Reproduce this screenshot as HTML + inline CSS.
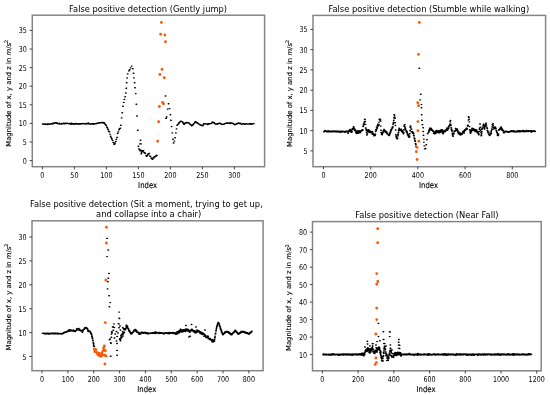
<!DOCTYPE html>
<html><head><meta charset="utf-8"><title>False positive detection plots</title><style>
html,body{margin:0;padding:0;background:#fff;width:550px;height:395px;overflow:hidden}
svg{display:block;filter:blur(0.3px)}

.sp{fill:none;stroke:#858585;stroke-width:1.5}
.tk{fill:none;stroke:#333;stroke-width:0.9}
text{font-family:"DejaVu Sans","Liberation Sans",sans-serif;fill:#000}
.xt{font-size:6.94px;text-anchor:middle}
.yt{font-size:6.94px;text-anchor:end}
.xl{font-size:6.94px;text-anchor:middle;stroke:#000;stroke-width:0.1px}
.yl{font-size:6.87px;stroke:#000;stroke-width:0.12px}
.ti{font-size:8.328px;text-anchor:middle}
.db,.do{fill:none;stroke-linecap:round}
.db{stroke:#000;stroke-width:1.44}
.do{stroke:#f95a08;stroke-width:2.9}
</style></head><body>
<svg width="550" height="395" viewBox="0 0 550 395">
<rect width="550" height="395" fill="#fff"/>
<rect class="sp" x="32.3" y="15.2" width="232.3" height="151.5"/>
<path class="tk" d="M42.4 166.7v2.7M74.4 166.7v2.7M106.4 166.7v2.7M138.4 166.7v2.7M170.4 166.7v2.7M202.4 166.7v2.7M234.4 166.7v2.7M32.3 160.6h-2.7M32.3 142h-2.7M32.3 123.4h-2.7M32.3 104.8h-2.7M32.3 86.2h-2.7M32.3 67.6h-2.7M32.3 49h-2.7M32.3 30.4h-2.7"/>
<text class="xt" transform="translate(42.4 177.7) scale(0.92 1.15)">0</text>
<text class="xt" transform="translate(74.4 177.7) scale(0.92 1.15)">50</text>
<text class="xt" transform="translate(106.4 177.7) scale(0.92 1.15)">100</text>
<text class="xt" transform="translate(138.4 177.7) scale(0.92 1.15)">150</text>
<text class="xt" transform="translate(170.4 177.7) scale(0.92 1.15)">200</text>
<text class="xt" transform="translate(202.4 177.7) scale(0.92 1.15)">250</text>
<text class="xt" transform="translate(234.4 177.7) scale(0.92 1.15)">300</text>
<text class="yt" transform="translate(26.84 160.6) scale(0.92 1.15)" y="2.64">0</text>
<text class="yt" transform="translate(26.84 142) scale(0.92 1.15)" y="2.64">5</text>
<text class="yt" transform="translate(26.84 123.4) scale(0.92 1.15)" y="2.64">10</text>
<text class="yt" transform="translate(26.84 104.8) scale(0.92 1.15)" y="2.64">15</text>
<text class="yt" transform="translate(26.84 86.2) scale(0.92 1.15)" y="2.64">20</text>
<text class="yt" transform="translate(26.84 67.6) scale(0.92 1.15)" y="2.64">25</text>
<text class="yt" transform="translate(26.84 49) scale(0.92 1.15)" y="2.64">30</text>
<text class="yt" transform="translate(26.84 30.4) scale(0.92 1.15)" y="2.64">35</text>
<text class="xl" transform="translate(147.65 188.22) scale(1 1.2)">Index</text>
<text class="yl" transform="translate(11.18 146.79) rotate(-90)" y="-0.68">Magnitude of x, y and z in <tspan font-style="italic">m</tspan>/<tspan font-style="italic">s</tspan><tspan font-size="4.858" dy="-2.68">2</tspan></text>
<text class="ti" x="148.05" y="11.89">False positive detection (Gently jump)</text>
<rect class="sp" x="313" y="15.4" width="232.6" height="151.3"/>
<path class="tk" d="M323.5 166.7v2.7M370.7 166.7v2.7M417.9 166.7v2.7M465.1 166.7v2.7M512.3 166.7v2.7M313 150.9h-2.7M313 130.65h-2.7M313 110.4h-2.7M313 90.15h-2.7M313 69.9h-2.7M313 49.65h-2.7M313 29.4h-2.7"/>
<text class="xt" transform="translate(323.5 177.7) scale(0.92 1.15)">0</text>
<text class="xt" transform="translate(370.7 177.7) scale(0.92 1.15)">200</text>
<text class="xt" transform="translate(417.9 177.7) scale(0.92 1.15)">400</text>
<text class="xt" transform="translate(465.1 177.7) scale(0.92 1.15)">600</text>
<text class="xt" transform="translate(512.3 177.7) scale(0.92 1.15)">800</text>
<text class="yt" transform="translate(307.54 150.9) scale(0.92 1.15)" y="2.64">5</text>
<text class="yt" transform="translate(307.54 130.65) scale(0.92 1.15)" y="2.64">10</text>
<text class="yt" transform="translate(307.54 110.4) scale(0.92 1.15)" y="2.64">15</text>
<text class="yt" transform="translate(307.54 90.15) scale(0.92 1.15)" y="2.64">20</text>
<text class="yt" transform="translate(307.54 69.9) scale(0.92 1.15)" y="2.64">25</text>
<text class="yt" transform="translate(307.54 49.65) scale(0.92 1.15)" y="2.64">30</text>
<text class="yt" transform="translate(307.54 29.4) scale(0.92 1.15)" y="2.64">35</text>
<text class="xl" transform="translate(428.5 188.22) scale(1 1.2)">Index</text>
<text class="yl" transform="translate(292.43 146.89) rotate(-90)" y="-0.68">Magnitude of x, y and z in <tspan font-style="italic">m</tspan>/<tspan font-style="italic">s</tspan><tspan font-size="4.858" dy="-2.68">2</tspan></text>
<text class="ti" x="428.8" y="12.09">False positive detection (Stumble while walking)</text>
<rect class="sp" x="32" y="220.8" width="231.1" height="149.9"/>
<path class="tk" d="M42 370.7v2.7M67.86 370.7v2.7M93.72 370.7v2.7M119.58 370.7v2.7M145.44 370.7v2.7M171.3 370.7v2.7M197.16 370.7v2.7M223.02 370.7v2.7M248.88 370.7v2.7M32 356.5h-2.7M32 332.6h-2.7M32 308.7h-2.7M32 284.8h-2.7M32 260.9h-2.7M32 237h-2.7"/>
<text class="xt" transform="translate(42 381.7) scale(0.92 1.15)">0</text>
<text class="xt" transform="translate(67.86 381.7) scale(0.92 1.15)">100</text>
<text class="xt" transform="translate(93.72 381.7) scale(0.92 1.15)">200</text>
<text class="xt" transform="translate(119.58 381.7) scale(0.92 1.15)">300</text>
<text class="xt" transform="translate(145.44 381.7) scale(0.92 1.15)">400</text>
<text class="xt" transform="translate(171.3 381.7) scale(0.92 1.15)">500</text>
<text class="xt" transform="translate(197.16 381.7) scale(0.92 1.15)">600</text>
<text class="xt" transform="translate(223.02 381.7) scale(0.92 1.15)">700</text>
<text class="xt" transform="translate(248.88 381.7) scale(0.92 1.15)">800</text>
<text class="yt" transform="translate(26.54 356.5) scale(0.92 1.15)" y="2.64">5</text>
<text class="yt" transform="translate(26.54 332.6) scale(0.92 1.15)" y="2.64">10</text>
<text class="yt" transform="translate(26.54 308.7) scale(0.92 1.15)" y="2.64">15</text>
<text class="yt" transform="translate(26.54 284.8) scale(0.92 1.15)" y="2.64">20</text>
<text class="yt" transform="translate(26.54 260.9) scale(0.92 1.15)" y="2.64">25</text>
<text class="yt" transform="translate(26.54 237) scale(0.92 1.15)" y="2.64">30</text>
<text class="xl" transform="translate(146.75 392.22) scale(1 1.2)">Index</text>
<text class="yl" transform="translate(11.53 350.49) rotate(-90)" y="-0.68">Magnitude of x, y and z in <tspan font-style="italic">m</tspan>/<tspan font-style="italic">s</tspan><tspan font-size="4.858" dy="-2.68">2</tspan></text>
<text class="ti" x="146.35" y="207.31">False positive detection (Sit a moment, trying to get up,</text>
<text class="ti" x="148.65" y="216.64">and collapse into a chair)</text>
<rect class="sp" x="312.5" y="221.6" width="228.7" height="149.2"/>
<path class="tk" d="M322.4 370.8v2.7M358.12 370.8v2.7M393.84 370.8v2.7M429.56 370.8v2.7M465.28 370.8v2.7M501 370.8v2.7M536.72 370.8v2.7M312.5 354.6h-2.7M312.5 337.1h-2.7M312.5 319.6h-2.7M312.5 302.1h-2.7M312.5 284.6h-2.7M312.5 267.1h-2.7M312.5 249.6h-2.7M312.5 232.1h-2.7"/>
<text class="xt" transform="translate(322.4 381.8) scale(0.92 1.15)">0</text>
<text class="xt" transform="translate(358.12 381.8) scale(0.92 1.15)">200</text>
<text class="xt" transform="translate(393.84 381.8) scale(0.92 1.15)">400</text>
<text class="xt" transform="translate(429.56 381.8) scale(0.92 1.15)">600</text>
<text class="xt" transform="translate(465.28 381.8) scale(0.92 1.15)">800</text>
<text class="xt" transform="translate(501 381.8) scale(0.92 1.15)">1000</text>
<text class="xt" transform="translate(536.72 381.8) scale(0.92 1.15)">1200</text>
<text class="yt" transform="translate(307.04 354.6) scale(0.92 1.15)" y="2.64">10</text>
<text class="yt" transform="translate(307.04 337.1) scale(0.92 1.15)" y="2.64">20</text>
<text class="yt" transform="translate(307.04 319.6) scale(0.92 1.15)" y="2.64">30</text>
<text class="yt" transform="translate(307.04 302.1) scale(0.92 1.15)" y="2.64">40</text>
<text class="yt" transform="translate(307.04 284.6) scale(0.92 1.15)" y="2.64">50</text>
<text class="yt" transform="translate(307.04 267.1) scale(0.92 1.15)" y="2.64">60</text>
<text class="yt" transform="translate(307.04 249.6) scale(0.92 1.15)" y="2.64">70</text>
<text class="yt" transform="translate(307.04 232.1) scale(0.92 1.15)" y="2.64">80</text>
<text class="xl" transform="translate(426.05 392.32) scale(1 1.2)">Index</text>
<text class="yl" transform="translate(291.93 351.04) rotate(-90)" y="-0.68">Magnitude of x, y and z in <tspan font-style="italic">m</tspan>/<tspan font-style="italic">s</tspan><tspan font-size="4.858" dy="-2.68">2</tspan></text>
<text class="ti" x="426.85" y="218.29">False positive detection (Near Fall)</text>
<path class="db" d="M42.5 123.9h0.55M43.2 124.3h0.55M43.8 124.3h0.55M44.4 124.1h0.55M45.1 124.2h0.55M45.7 124.0h0.55M46.4 124.3h0.55M47.0 124.6h0.55M47.6 124.0h0.55M48.3 123.9h0.55M48.9 124.2h0.55M49.6 124.1h0.55M50.2 124.0h0.55M50.8 123.6h0.55M51.5 123.8h0.55M52.1 124.0h0.55M52.8 123.3h0.55M53.4 123.5h0.55M54.0 122.9h0.55M54.7 123.1h0.55M55.3 122.8h0.55M56.0 123.2h0.55M56.6 122.8h0.55M57.2 123.5h0.55M57.9 123.7h0.55M58.5 123.8h0.55M59.2 123.3h0.55M59.8 124.0h0.55M60.4 124.1h0.55M61.1 124.0h0.55M61.7 123.5h0.55M62.4 123.7h0.55M63.0 123.5h0.55M63.6 123.4h0.55M64.3 123.9h0.55M64.9 123.3h0.55M65.6 123.4h0.55M66.2 123.6h0.55M66.8 123.1h0.55M67.5 123.4h0.55M68.1 123.6h0.55M68.8 123.8h0.55M69.4 123.4h0.55M70.0 123.8h0.55M70.7 124.2h0.55M71.3 123.3h0.55M72.0 124.1h0.55M72.6 123.8h0.55M73.2 123.6h0.55M73.9 124.4h0.55M74.5 124.0h0.55M75.2 123.4h0.55M75.8 123.8h0.55M76.4 124.0h0.55M77.1 123.7h0.55M77.7 124.0h0.55M78.4 123.8h0.55M79.0 124.0h0.55M79.6 124.2h0.55M80.3 123.6h0.55M80.9 123.9h0.55M81.6 123.7h0.55M82.2 123.8h0.55M82.8 123.4h0.55M83.5 123.6h0.55M84.1 123.7h0.55M84.8 124.1h0.55M85.4 124.1h0.55M86.0 123.4h0.55M86.7 123.6h0.55M87.3 123.7h0.55M88.0 122.9h0.55M88.6 123.8h0.55M89.2 123.9h0.55M89.9 124.2h0.55M90.5 124.1h0.55M91.2 123.7h0.55M91.8 123.7h0.55M92.4 123.7h0.55M93.1 124.2h0.55M93.7 123.6h0.55M94.4 123.7h0.55M95.0 123.8h0.55M95.6 123.7h0.55M96.3 123.6h0.55M96.9 123.2h0.55M97.6 123.3h0.55M98.2 122.9h0.55M98.8 123.1h0.55M99.5 122.8h0.55M100.1 122.6h0.55M100.8 122.8h0.55M101.4 122.4h0.55M102.0 122.8h0.55M102.7 122.5h0.55M103.3 123.0h0.55M104.0 122.8h0.55M104.6 124.0h0.55M105.2 124.4h0.55M105.9 125.4h0.55M106.5 127.0h0.55M107.2 128.0h0.55M107.8 129.5h0.55M108.4 131.2h0.55M109.1 131.7h0.55M109.7 134.1h0.55M110.4 136.2h0.55M111.0 137.8h0.55M111.6 139.0h0.55M112.3 140.4h0.55M112.9 142.4h0.55M113.6 144.0h0.55M114.2 144.3h0.55M114.8 143.0h0.55M115.5 141.4h0.55M116.1 139.3h0.55M116.8 137.4h0.55M117.4 133.6h0.55M118.0 132.0h0.55M118.7 129.8h0.55M119.3 128.8h0.55M120.0 128.3h0.55M120.6 125.2h0.55M121.4 117.9h0.55M122.0 112.7h0.55M122.7 106.2h0.55M123.5 102.4h0.55M124.1 99.4h0.55M124.9 96.7h0.55M125.6 93.0h0.55M126.0 88.3h0.55M126.4 82.7h0.55M126.8 77.9h0.55M127.4 73.9h0.55M128.6 70.9h0.55M129.4 69.8h0.55M130.3 67.9h0.55M131.4 66.1h0.55M132.6 68.8h0.55M133.3 73.2h0.55M133.7 77.9h0.55M134.3 82.7h0.55M134.7 87.7h0.55M135.5 93.6h0.55M136.1 104.2h0.55M136.7 116.0h0.55M137.5 130.2h0.55M140.2 140.3h0.55M139.7 143.9h0.55M140.8 143.9h0.55M138.1 146.2h0.55M138.7 148.9h0.55M139.4 149.7h0.55M140.0 150.9h0.55M140.6 150.1h0.55M141.3 152.2h0.55M141.9 150.7h0.55M142.6 151.3h0.55M143.2 150.6h0.55M143.8 152.4h0.55M144.5 153.0h0.55M145.1 153.2h0.55M145.8 155.5h0.55M146.4 156.2h0.55M147.0 155.5h0.55M147.7 154.5h0.55M148.3 153.7h0.55M149.0 153.5h0.55M149.6 155.9h0.55M150.2 156.4h0.55M150.9 157.9h0.55M151.5 158.6h0.55M152.2 159.4h0.55M152.8 157.9h0.55M153.4 158.0h0.55M154.1 156.7h0.55M154.7 156.9h0.55M155.4 156.2h0.55M156.0 155.5h0.55M156.6 155.5h0.55M141.1 153.8h0.55M165.2 96.0h0.55M165.8 118.4h0.55M166.3 117.0h0.55M167.4 109.1h0.55M168.3 103.7h0.55M169.3 108.6h0.55M170.1 114.8h0.55M170.7 120.3h0.55M171.3 126.6h0.55M172.0 132.9h0.55M172.7 139.2h0.55M173.3 143.0h0.55M174.1 141.1h0.55M174.8 137.7h0.55M175.6 132.9h0.55M176.3 128.9h0.55M176.9 125.3h0.55M177.4 124.6h0.55M178.1 123.9h0.55M178.7 123.0h0.55M179.3 122.3h0.55M180.0 121.5h0.55M180.6 121.2h0.55M181.3 121.4h0.55M181.9 121.6h0.55M182.5 122.3h0.55M183.2 123.5h0.55M183.8 124.4h0.55M184.5 123.3h0.55M185.1 123.3h0.55M185.7 122.8h0.55M186.4 122.4h0.55M187.0 122.9h0.55M187.7 122.6h0.55M188.3 122.7h0.55M188.9 123.2h0.55M189.6 124.1h0.55M190.2 124.5h0.55M190.9 125.3h0.55M191.5 125.7h0.55M192.1 125.0h0.55M192.8 124.9h0.55M193.4 123.7h0.55M194.1 123.1h0.55M194.7 122.3h0.55M195.3 121.8h0.55M196.0 122.2h0.55M196.6 122.9h0.55M197.3 123.0h0.55M197.9 123.4h0.55M198.5 123.9h0.55M199.2 124.6h0.55M199.8 124.8h0.55M200.5 125.1h0.55M201.1 125.3h0.55M201.7 125.5h0.55M202.4 125.7h0.55M203.0 124.9h0.55M203.7 123.7h0.55M204.3 123.6h0.55M204.9 123.8h0.55M205.6 123.9h0.55M206.2 124.1h0.55M206.9 123.9h0.55M207.5 124.5h0.55M208.1 123.8h0.55M208.8 124.1h0.55M209.4 123.8h0.55M210.1 123.6h0.55M210.7 123.6h0.55M211.3 123.2h0.55M212.0 122.3h0.55M212.6 121.9h0.55M213.3 122.7h0.55M213.9 122.7h0.55M214.5 123.4h0.55M215.2 124.1h0.55M215.8 124.0h0.55M216.5 124.0h0.55M217.1 124.2h0.55M217.7 123.8h0.55M218.4 123.4h0.55M219.0 123.2h0.55M219.7 123.3h0.55M220.3 123.5h0.55M220.9 124.3h0.55M221.6 124.4h0.55M222.2 124.1h0.55M222.9 124.4h0.55M223.5 124.1h0.55M224.1 124.0h0.55M224.8 123.4h0.55M225.4 123.4h0.55M226.1 123.2h0.55M226.7 123.1h0.55M227.3 123.3h0.55M228.0 122.9h0.55M228.6 123.2h0.55M229.3 123.1h0.55M229.9 123.5h0.55M230.5 122.6h0.55M231.2 123.1h0.55M231.8 123.1h0.55M232.5 123.5h0.55M233.1 123.5h0.55M233.7 124.1h0.55M234.4 124.7h0.55M235.0 124.5h0.55M235.7 124.2h0.55M236.3 123.7h0.55M236.9 123.7h0.55M237.6 123.2h0.55M238.2 122.9h0.55M238.9 123.5h0.55M239.5 123.5h0.55M240.1 123.2h0.55M240.8 123.9h0.55M241.4 124.3h0.55M242.1 124.0h0.55M242.7 123.7h0.55M243.3 123.7h0.55M244.0 124.3h0.55M244.6 124.0h0.55M245.3 124.0h0.55M245.9 123.9h0.55M246.5 124.0h0.55M247.2 124.1h0.55M247.8 124.1h0.55M248.5 124.0h0.55M249.1 123.7h0.55M249.7 124.1h0.55M250.4 123.8h0.55M251.0 124.2h0.55M251.7 123.6h0.55M252.3 123.9h0.55M252.9 123.9h0.55M253.6 123.6h0.55M323.6 131.8h0.55M323.9 131.7h0.55M324.1 131.2h0.55M324.3 131.5h0.55M324.6 131.4h0.55M324.8 130.5h0.55M325.0 131.4h0.55M325.3 131.3h0.55M325.5 131.4h0.55M325.7 131.0h0.55M326.0 131.3h0.55M326.2 131.3h0.55M326.5 131.7h0.55M326.7 131.5h0.55M326.9 131.4h0.55M327.2 131.8h0.55M327.4 131.2h0.55M327.6 131.2h0.55M327.9 130.8h0.55M328.1 131.8h0.55M328.3 131.7h0.55M328.6 131.7h0.55M328.8 131.6h0.55M329.1 131.4h0.55M329.3 131.5h0.55M329.5 131.3h0.55M329.8 131.3h0.55M330.0 131.4h0.55M330.2 131.9h0.55M330.5 131.6h0.55M330.7 131.4h0.55M330.9 131.2h0.55M331.2 131.2h0.55M331.4 131.9h0.55M331.6 131.6h0.55M331.9 131.5h0.55M332.1 131.3h0.55M332.4 131.1h0.55M332.6 131.4h0.55M332.8 131.7h0.55M333.1 131.3h0.55M333.3 131.4h0.55M333.5 131.4h0.55M333.8 131.5h0.55M334.0 131.0h0.55M334.2 131.4h0.55M334.5 131.2h0.55M334.7 131.7h0.55M335.0 131.3h0.55M335.2 131.7h0.55M335.4 131.9h0.55M335.7 131.4h0.55M335.9 131.3h0.55M336.1 131.6h0.55M336.4 131.5h0.55M336.6 131.2h0.55M336.8 131.7h0.55M337.1 132.1h0.55M337.3 131.4h0.55M337.5 131.5h0.55M337.8 131.2h0.55M338.0 131.6h0.55M338.3 131.2h0.55M338.5 131.2h0.55M338.7 131.9h0.55M339.0 131.3h0.55M339.2 131.9h0.55M339.4 132.0h0.55M339.7 131.6h0.55M339.9 131.7h0.55M340.1 132.2h0.55M340.4 131.5h0.55M340.6 131.4h0.55M340.9 131.2h0.55M341.1 131.6h0.55M341.3 132.0h0.55M341.6 131.9h0.55M341.8 131.3h0.55M342.0 131.3h0.55M342.3 131.5h0.55M342.5 131.7h0.55M342.7 131.5h0.55M343.0 131.7h0.55M343.2 131.7h0.55M343.4 131.5h0.55M343.7 131.6h0.55M343.9 131.7h0.55M344.2 131.6h0.55M344.4 131.8h0.55M344.6 132.2h0.55M344.9 131.8h0.55M345.1 131.7h0.55M345.3 131.1h0.55M345.6 131.8h0.55M345.8 131.1h0.55M346.0 131.2h0.55M346.3 131.9h0.55M346.5 131.9h0.55M346.8 131.6h0.55M347.0 131.2h0.55M347.2 131.6h0.55M347.5 131.5h0.55M347.7 131.9h0.55M347.9 133.3h0.55M348.2 131.9h0.55M348.4 131.1h0.55M348.6 130.7h0.55M348.9 131.3h0.55M349.1 131.0h0.55M349.3 130.0h0.55M349.6 130.7h0.55M349.8 129.5h0.55M350.1 130.9h0.55M350.3 130.6h0.55M350.5 131.2h0.55M350.8 130.8h0.55M351.0 132.2h0.55M351.2 132.4h0.55M351.5 131.9h0.55M351.7 131.0h0.55M351.9 129.4h0.55M352.2 128.4h0.55M352.4 129.3h0.55M352.7 128.3h0.55M352.9 128.4h0.55M353.1 128.7h0.55M353.4 126.6h0.55M353.6 127.7h0.55M353.8 128.7h0.55M354.1 129.2h0.55M354.3 129.0h0.55M354.5 130.5h0.55M354.8 130.4h0.55M355.0 129.8h0.55M355.2 130.5h0.55M355.5 132.1h0.55M355.7 132.2h0.55M356.0 130.9h0.55M356.2 133.5h0.55M356.4 133.1h0.55M356.7 133.4h0.55M356.9 132.0h0.55M357.1 131.8h0.55M357.4 131.0h0.55M357.6 133.4h0.55M357.8 131.3h0.55M358.1 132.5h0.55M358.3 131.1h0.55M358.6 131.8h0.55M358.8 130.7h0.55M359.0 131.8h0.55M359.3 132.9h0.55M359.5 131.4h0.55M359.7 132.8h0.55M360.0 132.2h0.55M360.2 131.0h0.55M360.4 131.3h0.55M360.7 131.1h0.55M360.9 131.3h0.55M361.1 130.8h0.55M361.4 130.4h0.55M361.6 130.6h0.55M361.9 130.0h0.55M362.1 129.6h0.55M362.3 130.3h0.55M362.6 129.9h0.55M362.8 126.6h0.55M363.0 126.3h0.55M363.3 124.9h0.55M363.5 123.7h0.55M363.7 123.9h0.55M364.0 122.0h0.55M364.2 122.3h0.55M364.5 119.5h0.55M364.7 119.2h0.55M364.9 121.4h0.55M365.2 124.4h0.55M365.4 127.9h0.55M365.6 128.1h0.55M365.9 129.3h0.55M366.1 130.2h0.55M366.3 132.2h0.55M366.6 135.1h0.55M366.8 134.1h0.55M367.0 133.7h0.55M367.3 131.3h0.55M367.5 130.8h0.55M367.8 129.7h0.55M368.0 131.5h0.55M368.2 130.4h0.55M368.5 130.0h0.55M368.7 131.3h0.55M368.9 132.2h0.55M369.2 130.5h0.55M369.4 130.9h0.55M369.6 131.3h0.55M369.9 131.2h0.55M370.1 132.3h0.55M370.4 131.6h0.55M370.6 131.8h0.55M370.8 132.8h0.55M371.1 131.9h0.55M371.3 132.9h0.55M371.5 132.0h0.55M371.8 131.9h0.55M372.0 131.5h0.55M372.2 134.3h0.55M372.5 133.0h0.55M372.7 133.7h0.55M372.9 133.7h0.55M373.2 134.1h0.55M373.4 134.2h0.55M373.7 135.8h0.55M373.9 134.2h0.55M374.1 134.3h0.55M374.4 135.2h0.55M374.6 135.4h0.55M374.8 135.6h0.55M375.1 134.2h0.55M375.3 131.6h0.55M375.5 129.8h0.55M375.8 129.7h0.55M376.0 130.5h0.55M376.3 127.1h0.55M376.5 128.9h0.55M376.7 127.2h0.55M377.0 128.0h0.55M377.2 125.8h0.55M377.4 125.7h0.55M377.7 124.2h0.55M377.9 124.4h0.55M378.1 126.0h0.55M378.4 125.4h0.55M378.6 124.4h0.55M378.8 122.1h0.55M379.1 119.2h0.55M379.3 119.7h0.55M379.6 119.7h0.55M379.8 119.5h0.55M380.0 119.2h0.55M380.3 121.0h0.55M380.5 126.1h0.55M380.7 130.3h0.55M381.0 132.5h0.55M381.2 134.1h0.55M381.4 133.9h0.55M381.7 134.6h0.55M381.9 134.8h0.55M382.2 133.6h0.55M382.4 132.8h0.55M382.6 132.6h0.55M382.9 131.2h0.55M383.1 131.6h0.55M383.3 130.4h0.55M383.6 129.9h0.55M383.8 129.4h0.55M384.0 129.7h0.55M384.3 130.2h0.55M384.5 131.0h0.55M384.7 131.1h0.55M385.0 131.9h0.55M385.2 131.9h0.55M385.5 131.2h0.55M385.7 132.5h0.55M385.9 131.7h0.55M386.2 132.5h0.55M386.4 133.0h0.55M386.6 132.0h0.55M386.9 133.7h0.55M387.1 134.0h0.55M387.3 134.0h0.55M387.6 134.1h0.55M387.8 134.3h0.55M388.1 134.1h0.55M388.3 134.9h0.55M388.5 134.9h0.55M388.8 135.6h0.55M389.0 134.3h0.55M389.2 134.7h0.55M389.5 134.0h0.55M389.7 133.2h0.55M389.9 132.3h0.55M390.2 132.4h0.55M390.4 130.2h0.55M390.6 131.1h0.55M390.9 130.3h0.55M391.1 129.7h0.55M391.4 129.3h0.55M391.6 128.1h0.55M391.8 127.9h0.55M392.1 128.1h0.55M392.3 127.4h0.55M392.5 126.8h0.55M392.8 124.2h0.55M393.0 123.8h0.55M393.2 122.3h0.55M393.5 120.2h0.55M393.7 117.8h0.55M394.0 114.6h0.55M394.2 115.6h0.55M394.4 117.3h0.55M394.7 118.2h0.55M394.9 122.7h0.55M395.1 125.5h0.55M395.4 130.0h0.55M395.6 134.8h0.55M395.8 136.9h0.55M396.1 136.2h0.55M396.3 137.1h0.55M396.5 138.6h0.55M396.8 138.9h0.55M397.0 138.1h0.55M397.3 138.2h0.55M397.5 135.9h0.55M397.7 134.8h0.55M398.0 134.0h0.55M398.2 132.4h0.55M398.4 130.7h0.55M398.7 129.7h0.55M398.9 128.3h0.55M399.1 129.0h0.55M399.4 129.7h0.55M399.6 129.7h0.55M399.9 130.2h0.55M400.1 129.9h0.55M400.3 129.6h0.55M400.6 130.2h0.55M400.8 129.4h0.55M401.0 129.2h0.55M401.3 131.1h0.55M401.5 131.1h0.55M401.7 131.7h0.55M402.0 130.7h0.55M402.2 132.0h0.55M402.4 132.3h0.55M402.7 132.5h0.55M402.9 131.9h0.55M403.2 133.7h0.55M403.4 132.7h0.55M403.6 129.7h0.55M403.9 126.3h0.55M404.1 125.1h0.55M404.3 126.4h0.55M404.6 124.6h0.55M404.8 127.2h0.55M405.0 128.4h0.55M405.3 129.2h0.55M405.5 130.7h0.55M405.8 130.8h0.55M406.0 130.8h0.55M406.2 131.3h0.55M406.5 132.2h0.55M406.7 131.8h0.55M406.9 132.7h0.55M407.2 133.9h0.55M407.4 135.1h0.55M407.6 134.2h0.55M407.9 134.7h0.55M408.1 135.3h0.55M408.3 136.5h0.55M408.6 135.9h0.55M408.8 137.3h0.55M409.1 136.0h0.55M409.3 136.9h0.55M409.5 133.8h0.55M409.8 130.8h0.55M410.0 127.3h0.55M410.2 125.9h0.55M410.5 127.1h0.55M410.7 128.9h0.55M410.9 129.0h0.55M411.2 129.2h0.55M411.4 131.8h0.55M411.7 132.0h0.55M411.9 132.2h0.55M412.1 131.8h0.55M412.4 133.1h0.55M412.6 132.4h0.55M412.8 133.6h0.55M413.1 132.6h0.55M413.3 133.7h0.55M413.5 135.5h0.55M413.8 135.9h0.55M414.0 138.0h0.55M414.2 138.7h0.55M414.5 139.0h0.55M414.7 140.8h0.55M415.0 141.6h0.55M415.2 143.6h0.55M415.4 143.6h0.55M415.7 144.7h0.55M415.9 146.8h0.55M419.0 68.2h0.55M419.9 99.9h0.55M420.5 94.2h0.55M421.2 104.6h0.55M421.2 107.8h0.55M421.4 114.8h0.55M421.7 120.2h0.55M422.1 124.7h0.55M422.9 127.7h0.55M422.9 131.5h0.55M423.2 135.3h0.55M423.6 139.1h0.55M423.6 142.1h0.55M424.1 145.9h0.55M424.4 148.9h0.55M425.3 148.5h0.55M426.0 144.7h0.55M426.7 139.8h0.55M427.4 133.8h0.55M428.2 132.4h0.55M428.5 131.9h0.55M428.7 130.2h0.55M428.9 130.1h0.55M429.2 130.7h0.55M429.4 129.2h0.55M429.6 128.3h0.55M429.9 129.1h0.55M430.1 129.4h0.55M430.3 128.6h0.55M430.6 128.2h0.55M430.8 128.4h0.55M431.1 130.0h0.55M431.3 129.1h0.55M431.5 129.7h0.55M431.8 130.0h0.55M432.0 130.4h0.55M432.2 130.1h0.55M432.5 131.1h0.55M432.7 130.6h0.55M432.9 131.3h0.55M433.2 131.3h0.55M433.4 133.2h0.55M433.7 132.8h0.55M433.9 132.7h0.55M434.1 133.4h0.55M434.4 133.8h0.55M434.6 133.9h0.55M434.8 131.9h0.55M435.1 131.8h0.55M435.3 131.8h0.55M435.5 133.3h0.55M435.8 131.8h0.55M436.0 130.5h0.55M436.2 131.2h0.55M436.5 132.2h0.55M436.7 130.7h0.55M437.0 130.7h0.55M437.2 131.9h0.55M437.4 131.4h0.55M437.7 131.6h0.55M437.9 131.0h0.55M438.1 132.8h0.55M438.4 132.8h0.55M438.6 132.2h0.55M438.8 132.4h0.55M439.1 130.7h0.55M439.3 132.7h0.55M439.6 132.0h0.55M439.8 132.2h0.55M440.0 132.2h0.55M440.3 131.2h0.55M440.5 130.0h0.55M440.7 131.2h0.55M441.0 130.2h0.55M441.2 130.4h0.55M441.4 130.5h0.55M441.7 130.9h0.55M441.9 129.8h0.55M442.1 132.5h0.55M442.4 132.0h0.55M442.6 132.9h0.55M442.9 133.7h0.55M443.1 132.2h0.55M443.3 130.9h0.55M443.6 131.5h0.55M443.8 131.2h0.55M444.0 131.6h0.55M444.3 131.9h0.55M444.5 130.4h0.55M444.7 131.8h0.55M445.0 130.3h0.55M445.2 131.3h0.55M445.5 130.7h0.55M445.7 130.3h0.55M445.9 130.3h0.55M446.2 129.7h0.55M446.4 129.3h0.55M446.6 128.3h0.55M446.9 129.1h0.55M447.1 130.2h0.55M447.3 129.9h0.55M447.6 129.2h0.55M447.8 128.4h0.55M448.0 127.1h0.55M448.3 128.2h0.55M448.5 126.7h0.55M448.8 126.3h0.55M449.0 125.8h0.55M449.2 125.6h0.55M449.5 124.9h0.55M449.7 124.3h0.55M449.9 121.8h0.55M450.2 120.5h0.55M450.4 124.3h0.55M450.6 125.5h0.55M450.9 127.8h0.55M451.1 129.2h0.55M451.4 130.2h0.55M451.6 129.8h0.55M451.8 131.3h0.55M452.1 133.3h0.55M452.3 134.4h0.55M452.5 135.8h0.55M452.8 136.2h0.55M453.0 134.0h0.55M453.2 133.9h0.55M453.5 132.9h0.55M453.7 133.8h0.55M453.9 130.9h0.55M454.2 131.3h0.55M454.4 130.9h0.55M454.7 131.3h0.55M454.9 130.8h0.55M455.1 130.9h0.55M455.4 128.4h0.55M455.6 130.2h0.55M455.8 129.6h0.55M456.1 129.5h0.55M456.3 130.5h0.55M456.5 129.6h0.55M456.8 129.0h0.55M457.0 130.3h0.55M457.3 129.9h0.55M457.5 130.9h0.55M457.7 132.1h0.55M458.0 132.4h0.55M458.2 133.7h0.55M458.4 132.9h0.55M458.7 132.3h0.55M458.9 133.1h0.55M459.1 133.1h0.55M459.4 133.1h0.55M459.6 134.4h0.55M459.8 133.8h0.55M460.1 133.0h0.55M460.3 135.0h0.55M460.6 134.4h0.55M460.8 134.5h0.55M461.0 134.1h0.55M461.3 134.2h0.55M461.5 133.6h0.55M461.7 134.2h0.55M462.0 133.3h0.55M462.2 133.1h0.55M462.4 133.0h0.55M462.7 131.5h0.55M462.9 132.3h0.55M463.2 132.1h0.55M463.4 132.3h0.55M463.6 131.0h0.55M463.9 133.0h0.55M464.1 131.6h0.55M464.3 130.4h0.55M464.6 129.8h0.55M464.8 130.4h0.55M465.0 130.3h0.55M465.3 129.5h0.55M465.5 129.8h0.55M465.7 128.9h0.55M466.0 129.5h0.55M466.2 128.2h0.55M466.5 128.2h0.55M466.7 128.4h0.55M466.9 129.1h0.55M467.2 126.1h0.55M467.4 126.0h0.55M467.6 125.3h0.55M467.9 125.3h0.55M468.1 120.1h0.55M468.3 116.8h0.55M468.6 117.4h0.55M468.8 119.2h0.55M469.1 121.9h0.55M469.3 126.6h0.55M469.5 129.7h0.55M469.8 131.1h0.55M470.0 132.7h0.55M470.2 133.3h0.55M470.5 132.4h0.55M470.7 130.7h0.55M470.9 131.0h0.55M471.2 131.2h0.55M471.4 130.4h0.55M471.6 129.3h0.55M471.9 128.3h0.55M472.1 129.4h0.55M472.4 128.7h0.55M472.6 128.4h0.55M472.8 128.7h0.55M473.1 130.4h0.55M473.3 129.6h0.55M473.5 130.3h0.55M473.8 129.2h0.55M474.0 130.3h0.55M474.2 129.3h0.55M474.5 129.7h0.55M474.7 131.6h0.55M475.0 130.5h0.55M475.2 129.6h0.55M475.4 130.1h0.55M475.7 130.7h0.55M475.9 131.5h0.55M476.1 130.6h0.55M476.4 129.9h0.55M476.6 131.2h0.55M476.8 131.6h0.55M477.1 131.9h0.55M477.3 133.0h0.55M477.5 132.5h0.55M477.8 133.1h0.55M478.0 132.0h0.55M478.3 133.6h0.55M478.5 134.7h0.55M478.7 134.0h0.55M479.0 131.4h0.55M479.2 129.2h0.55M479.4 128.1h0.55M479.7 124.0h0.55M479.9 124.1h0.55M480.1 127.3h0.55M480.4 130.3h0.55M480.6 132.3h0.55M480.9 135.7h0.55M481.1 134.9h0.55M481.3 133.6h0.55M481.6 131.7h0.55M481.8 129.3h0.55M482.0 128.4h0.55M482.3 128.0h0.55M482.5 126.1h0.55M482.7 126.0h0.55M483.0 126.0h0.55M483.2 124.2h0.55M483.4 125.6h0.55M483.7 125.3h0.55M483.9 127.4h0.55M484.2 128.8h0.55M484.4 129.1h0.55M484.6 126.8h0.55M484.9 126.5h0.55M485.1 125.1h0.55M485.3 124.1h0.55M485.6 124.5h0.55M485.8 123.3h0.55M486.0 125.8h0.55M486.3 125.9h0.55M486.5 127.8h0.55M486.8 128.0h0.55M487.0 128.6h0.55M487.2 130.5h0.55M487.5 132.0h0.55M487.7 132.1h0.55M487.9 132.9h0.55M488.2 132.7h0.55M488.4 132.0h0.55M488.6 134.5h0.55M488.9 134.8h0.55M489.1 134.9h0.55M489.3 135.2h0.55M489.6 135.5h0.55M489.8 134.0h0.55M490.1 133.5h0.55M490.3 133.4h0.55M490.5 134.0h0.55M490.8 131.8h0.55M491.0 133.2h0.55M491.2 130.6h0.55M491.5 129.0h0.55M491.7 129.3h0.55M491.9 127.0h0.55M492.2 124.8h0.55M492.4 124.1h0.55M492.7 123.7h0.55M492.9 125.5h0.55M493.1 127.3h0.55M493.4 129.0h0.55M493.6 129.0h0.55M493.8 127.8h0.55M494.1 128.3h0.55M494.3 127.8h0.55M494.5 127.2h0.55M494.8 127.0h0.55M495.0 127.5h0.55M495.2 128.0h0.55M495.5 128.2h0.55M495.7 128.9h0.55M496.0 130.6h0.55M496.2 130.6h0.55M496.4 131.7h0.55M496.7 132.5h0.55M496.9 132.8h0.55M497.1 134.9h0.55M497.4 133.5h0.55M497.6 135.5h0.55M497.8 135.4h0.55M498.1 135.6h0.55M498.3 134.1h0.55M498.6 130.2h0.55M498.8 129.6h0.55M499.0 129.8h0.55M499.3 129.6h0.55M499.5 129.2h0.55M499.7 128.3h0.55M500.0 128.3h0.55M500.2 128.3h0.55M500.4 128.1h0.55M500.7 129.1h0.55M500.9 127.0h0.55M501.1 129.3h0.55M501.4 128.3h0.55M501.6 130.0h0.55M501.9 129.4h0.55M502.1 129.3h0.55M502.3 130.6h0.55M502.6 130.1h0.55M502.8 130.5h0.55M503.0 130.4h0.55M503.3 131.9h0.55M503.5 132.6h0.55M503.7 132.9h0.55M504.0 131.9h0.55M504.2 132.6h0.55M504.5 131.7h0.55M504.7 131.5h0.55M504.9 131.6h0.55M505.2 131.6h0.55M505.4 131.1h0.55M505.6 131.3h0.55M505.9 131.3h0.55M506.1 131.5h0.55M506.3 131.3h0.55M506.6 131.9h0.55M506.8 131.6h0.55M507.0 131.9h0.55M507.3 131.6h0.55M507.5 132.0h0.55M507.8 132.0h0.55M508.0 131.7h0.55M508.2 132.4h0.55M508.5 131.9h0.55M508.7 132.3h0.55M508.9 132.0h0.55M509.2 131.5h0.55M509.4 131.5h0.55M509.6 131.7h0.55M509.9 131.6h0.55M510.1 131.5h0.55M510.4 131.4h0.55M510.6 130.9h0.55M510.8 131.3h0.55M511.1 130.7h0.55M511.3 131.5h0.55M511.5 131.2h0.55M511.8 131.2h0.55M512.0 131.4h0.55M512.2 131.5h0.55M512.5 131.0h0.55M512.7 130.9h0.55M512.9 131.1h0.55M513.2 130.8h0.55M513.4 131.2h0.55M513.7 131.9h0.55M513.9 131.1h0.55M514.1 131.7h0.55M514.4 131.1h0.55M514.6 131.6h0.55M514.8 131.4h0.55M515.1 131.5h0.55M515.3 131.7h0.55M515.5 132.0h0.55M515.8 131.5h0.55M516.0 131.5h0.55M516.3 131.1h0.55M516.5 131.6h0.55M516.7 131.3h0.55M517.0 131.6h0.55M517.2 131.3h0.55M517.4 131.9h0.55M517.7 130.7h0.55M517.9 131.2h0.55M518.1 131.5h0.55M518.4 131.1h0.55M518.6 131.0h0.55M518.8 131.1h0.55M519.1 130.8h0.55M519.3 131.2h0.55M519.6 131.9h0.55M519.8 131.5h0.55M520.0 130.9h0.55M520.3 130.9h0.55M520.5 131.1h0.55M520.7 131.5h0.55M521.0 131.0h0.55M521.2 131.0h0.55M521.4 131.5h0.55M521.7 131.5h0.55M521.9 131.1h0.55M522.2 130.9h0.55M522.4 130.7h0.55M522.6 131.0h0.55M522.9 130.5h0.55M523.1 131.4h0.55M523.3 131.0h0.55M523.6 131.3h0.55M523.8 131.8h0.55M524.0 131.6h0.55M524.3 130.9h0.55M524.5 131.5h0.55M524.7 131.5h0.55M525.0 131.0h0.55M525.2 130.9h0.55M525.5 131.2h0.55M525.7 130.7h0.55M525.9 131.6h0.55M526.2 130.5h0.55M526.4 130.9h0.55M526.6 131.1h0.55M526.9 131.1h0.55M527.1 131.2h0.55M527.3 131.3h0.55M527.6 131.1h0.55M527.8 131.5h0.55M528.1 130.6h0.55M528.3 131.2h0.55M528.5 131.0h0.55M528.8 131.2h0.55M529.0 131.3h0.55M529.2 130.9h0.55M529.5 131.0h0.55M529.7 131.4h0.55M529.9 131.3h0.55M530.2 131.0h0.55M530.4 131.8h0.55M530.6 131.9h0.55M530.9 130.8h0.55M531.1 131.3h0.55M531.4 132.0h0.55M531.6 131.4h0.55M531.8 131.3h0.55M532.1 131.1h0.55M532.3 131.0h0.55M532.5 131.1h0.55M532.8 131.0h0.55M533.0 131.4h0.55M533.2 131.1h0.55M533.5 131.1h0.55M533.7 130.8h0.55M534.0 131.2h0.55M534.2 130.9h0.55M534.4 131.1h0.55M534.7 131.5h0.55M534.9 131.3h0.55M42.3 333.4h0.55M42.6 333.4h0.55M42.8 333.4h0.55M43.1 333.3h0.55M43.4 333.3h0.55M43.6 333.6h0.55M43.9 333.2h0.55M44.1 333.8h0.55M44.4 333.5h0.55M44.7 333.4h0.55M44.9 333.4h0.55M45.2 333.4h0.55M45.4 333.7h0.55M45.7 333.5h0.55M45.9 334.0h0.55M46.2 333.5h0.55M46.5 333.1h0.55M46.7 333.5h0.55M47.0 333.1h0.55M47.2 333.6h0.55M47.5 333.9h0.55M47.8 333.7h0.55M48.0 333.2h0.55M48.3 333.4h0.55M48.5 334.0h0.55M48.8 333.6h0.55M49.0 333.5h0.55M49.3 333.7h0.55M49.6 334.1h0.55M49.8 333.8h0.55M50.1 333.5h0.55M50.3 333.5h0.55M50.6 333.5h0.55M50.9 333.2h0.55M51.1 333.1h0.55M51.4 333.3h0.55M51.6 333.1h0.55M51.9 333.3h0.55M52.2 333.3h0.55M52.4 333.9h0.55M52.7 333.1h0.55M52.9 333.3h0.55M53.2 333.4h0.55M53.4 333.5h0.55M53.7 333.7h0.55M54.0 333.3h0.55M54.2 333.3h0.55M54.5 333.1h0.55M54.7 333.3h0.55M55.0 333.7h0.55M55.3 333.6h0.55M55.5 333.3h0.55M55.8 333.5h0.55M56.0 333.6h0.55M56.3 333.7h0.55M56.5 333.5h0.55M56.8 333.6h0.55M57.1 333.2h0.55M57.3 333.4h0.55M57.6 334.1h0.55M57.8 333.2h0.55M58.1 333.6h0.55M58.4 333.8h0.55M58.6 333.7h0.55M58.9 333.6h0.55M59.1 333.8h0.55M59.4 333.8h0.55M59.7 333.8h0.55M59.9 333.4h0.55M60.2 333.8h0.55M60.4 333.7h0.55M60.7 333.7h0.55M60.9 333.9h0.55M61.2 334.0h0.55M61.5 333.9h0.55M61.7 333.5h0.55M62.0 333.7h0.55M62.2 333.7h0.55M62.5 333.6h0.55M62.8 333.6h0.55M63.0 333.1h0.55M63.3 333.0h0.55M63.5 333.1h0.55M63.8 332.5h0.55M64.0 332.8h0.55M64.3 332.5h0.55M64.6 332.4h0.55M64.8 332.0h0.55M65.1 332.1h0.55M65.3 332.2h0.55M65.6 332.3h0.55M65.9 332.2h0.55M66.1 331.8h0.55M66.4 331.7h0.55M66.6 331.4h0.55M66.9 331.6h0.55M67.2 331.3h0.55M67.4 331.4h0.55M67.7 331.5h0.55M67.9 331.0h0.55M68.2 330.2h0.55M68.4 330.3h0.55M68.7 330.0h0.55M69.0 330.0h0.55M69.2 331.1h0.55M69.5 330.6h0.55M69.7 329.8h0.55M70.0 330.7h0.55M70.3 331.0h0.55M70.5 330.2h0.55M70.8 330.1h0.55M71.0 330.2h0.55M71.3 330.5h0.55M71.5 330.6h0.55M71.8 330.9h0.55M72.1 330.9h0.55M72.3 330.8h0.55M72.6 331.0h0.55M72.8 330.8h0.55M73.1 329.9h0.55M73.4 330.6h0.55M73.6 330.9h0.55M73.9 330.7h0.55M74.1 331.4h0.55M74.4 330.9h0.55M74.7 330.6h0.55M74.9 331.5h0.55M75.2 331.0h0.55M75.4 330.6h0.55M75.7 330.8h0.55M75.9 330.6h0.55M76.2 330.2h0.55M76.5 328.7h0.55M76.7 329.4h0.55M77.0 329.3h0.55M77.2 328.9h0.55M77.5 329.2h0.55M77.8 329.5h0.55M78.0 328.6h0.55M78.3 328.5h0.55M78.5 330.1h0.55M78.8 329.2h0.55M79.0 329.0h0.55M79.3 329.9h0.55M79.6 330.2h0.55M79.8 329.9h0.55M80.1 330.7h0.55M80.3 330.3h0.55M80.6 330.2h0.55M80.9 330.8h0.55M81.1 331.1h0.55M81.4 330.6h0.55M81.6 331.1h0.55M81.9 331.0h0.55M82.1 332.2h0.55M82.4 330.3h0.55M82.7 330.9h0.55M82.9 329.9h0.55M83.2 329.5h0.55M83.4 329.5h0.55M83.7 329.2h0.55M84.0 329.2h0.55M84.2 328.6h0.55M84.5 327.9h0.55M84.7 327.8h0.55M85.0 328.0h0.55M85.3 327.9h0.55M85.5 328.0h0.55M85.8 327.4h0.55M86.0 327.8h0.55M86.3 328.5h0.55M86.5 328.4h0.55M86.8 328.2h0.55M87.1 328.8h0.55M87.3 329.2h0.55M87.6 331.1h0.55M87.8 330.2h0.55M88.1 331.2h0.55M88.4 331.0h0.55M88.6 331.6h0.55M88.9 331.4h0.55M89.1 331.0h0.55M89.4 331.0h0.55M89.6 331.5h0.55M89.9 331.9h0.55M90.2 332.2h0.55M90.4 332.7h0.55M90.7 333.6h0.55M90.9 333.2h0.55M91.2 334.3h0.55M91.5 335.1h0.55M91.7 336.4h0.55M92.0 337.7h0.55M92.2 338.5h0.55M92.5 340.1h0.55M92.8 340.8h0.55M93.0 342.8h0.55M93.3 343.8h0.55M93.5 345.3h0.55M93.8 346.4h0.55M94.0 346.4h0.55M106.8 238.4h0.55M108.0 250.0h0.55M106.8 256.6h0.55M108.7 273.4h0.55M108.0 278.3h0.55M107.6 281.8h0.55M107.3 288.9h0.55M108.8 295.8h0.55M109.9 302.6h0.55M109.1 306.8h0.55M111.6 331.8h0.55M111.2 334.0h0.55M109.9 338.9h0.55M110.7 343.3h0.55M110.3 356.4h0.55M118.9 318.2h0.55M118.7 323.9h0.55M113.6 323.9h0.55M112.4 327.0h0.55M118.7 327.7h0.55M113.0 330.2h0.55M116.2 331.5h0.55M111.7 332.7h0.55M114.9 334.0h0.55M111.1 337.2h0.55M116.8 336.5h0.55M109.2 339.7h0.55M119.3 339.0h0.55M116.2 341.0h0.55M110.5 342.8h0.55M116.8 343.5h0.55M116.8 350.4h0.55M110.5 356.1h0.55M116.8 355.3h0.55M122.5 327.7h0.55M123.7 328.9h0.55M118.9 312.1h0.55M119.2 318.5h0.55M118.2 323.8h0.55M112.9 326.8h0.55M114.1 327.6h0.55M122.7 328.0h0.55M120.2 330.0h0.55M120.7 336.0h0.55M117.7 333.0h0.55M114.2 338.0h0.55M119.7 326.0h0.55M119.7 339.6h0.55M120.0 340.0h0.55M120.2 340.8h0.55M120.5 338.5h0.55M120.8 337.7h0.55M121.0 334.9h0.55M121.3 337.6h0.55M121.5 337.2h0.55M121.8 334.5h0.55M122.1 333.8h0.55M122.3 331.7h0.55M122.6 334.3h0.55M122.8 336.0h0.55M123.1 333.2h0.55M123.3 333.4h0.55M123.6 332.1h0.55M123.9 329.8h0.55M124.1 332.2h0.55M124.4 328.6h0.55M124.6 329.4h0.55M124.9 329.5h0.55M125.2 329.7h0.55M125.4 328.6h0.55M125.7 328.1h0.55M125.9 326.3h0.55M126.2 325.3h0.55M126.4 327.3h0.55M126.7 326.7h0.55M127.0 326.3h0.55M127.2 326.7h0.55M127.5 328.0h0.55M127.7 328.4h0.55M128.0 328.8h0.55M128.3 329.1h0.55M128.5 330.0h0.55M128.8 330.5h0.55M129.0 331.4h0.55M129.3 330.8h0.55M129.6 331.5h0.55M129.8 332.4h0.55M130.1 332.5h0.55M130.3 332.9h0.55M130.6 333.9h0.55M130.8 333.7h0.55M131.1 333.9h0.55M131.4 333.6h0.55M131.6 333.7h0.55M131.9 333.3h0.55M132.1 332.5h0.55M132.4 332.2h0.55M132.7 332.3h0.55M132.9 332.0h0.55M133.2 331.3h0.55M133.4 331.4h0.55M133.7 331.1h0.55M133.9 330.1h0.55M134.2 330.3h0.55M134.5 330.2h0.55M134.7 329.6h0.55M135.0 329.4h0.55M135.2 330.2h0.55M135.5 330.7h0.55M135.8 331.2h0.55M136.0 330.3h0.55M136.3 332.0h0.55M136.5 331.1h0.55M136.8 331.9h0.55M137.1 332.2h0.55M137.3 332.4h0.55M137.6 332.4h0.55M137.8 332.2h0.55M138.1 333.0h0.55M138.3 332.8h0.55M138.6 332.5h0.55M138.9 334.3h0.55M139.1 333.9h0.55M139.4 334.4h0.55M139.6 333.5h0.55M139.9 334.0h0.55M140.2 333.9h0.55M140.4 333.8h0.55M140.7 333.2h0.55M140.9 332.7h0.55M141.2 332.9h0.55M141.4 332.1h0.55M141.7 332.2h0.55M142.0 332.6h0.55M142.2 332.2h0.55M142.5 332.5h0.55M142.7 332.6h0.55M143.0 333.2h0.55M143.3 333.0h0.55M143.5 332.7h0.55M143.8 333.1h0.55M144.0 332.5h0.55M144.3 332.7h0.55M144.6 333.1h0.55M144.8 332.5h0.55M145.1 332.8h0.55M145.3 332.5h0.55M145.6 333.0h0.55M145.8 333.5h0.55M146.1 332.8h0.55M146.4 333.1h0.55M146.6 332.8h0.55M146.9 332.8h0.55M147.1 332.8h0.55M147.4 333.6h0.55M147.7 333.9h0.55M147.9 333.4h0.55M148.2 333.0h0.55M148.4 333.5h0.55M148.7 333.2h0.55M148.9 333.6h0.55M149.2 333.5h0.55M149.5 333.5h0.55M149.7 333.6h0.55M150.0 333.3h0.55M150.2 333.4h0.55M150.5 332.9h0.55M150.8 333.3h0.55M151.0 332.9h0.55M151.3 333.2h0.55M151.5 332.9h0.55M151.8 333.2h0.55M152.0 333.3h0.55M152.3 332.6h0.55M152.6 332.8h0.55M152.8 332.7h0.55M153.1 333.1h0.55M153.3 333.4h0.55M153.6 333.1h0.55M153.9 332.6h0.55M154.1 333.1h0.55M154.4 332.3h0.55M154.6 333.2h0.55M154.9 332.5h0.55M155.2 331.9h0.55M155.4 333.6h0.55M155.7 333.3h0.55M155.9 332.5h0.55M156.2 332.9h0.55M156.4 332.8h0.55M156.7 332.9h0.55M157.0 332.4h0.55M157.2 332.7h0.55M157.5 333.0h0.55M157.7 333.0h0.55M158.0 333.3h0.55M158.3 332.9h0.55M158.5 333.6h0.55M158.8 332.7h0.55M159.0 333.0h0.55M159.3 332.4h0.55M159.5 332.6h0.55M159.8 333.4h0.55M160.1 332.7h0.55M160.3 333.2h0.55M160.6 333.0h0.55M160.8 332.8h0.55M161.1 333.0h0.55M161.4 332.9h0.55M161.6 333.0h0.55M161.9 333.4h0.55M162.1 333.3h0.55M162.4 333.0h0.55M162.7 332.9h0.55M162.9 333.3h0.55M163.2 333.2h0.55M163.4 333.5h0.55M163.7 334.0h0.55M163.9 333.4h0.55M164.2 333.1h0.55M164.5 333.1h0.55M164.7 332.8h0.55M165.0 332.8h0.55M165.2 332.8h0.55M165.5 332.9h0.55M165.8 332.9h0.55M166.0 333.2h0.55M166.3 332.9h0.55M166.5 332.9h0.55M166.8 332.6h0.55M167.0 333.5h0.55M167.3 333.1h0.55M167.6 333.5h0.55M167.8 333.2h0.55M168.1 333.3h0.55M168.3 332.8h0.55M168.6 333.1h0.55M168.9 333.7h0.55M169.1 332.5h0.55M169.4 333.3h0.55M169.6 333.4h0.55M169.9 333.0h0.55M170.2 333.1h0.55M170.4 333.3h0.55M170.7 332.7h0.55M170.9 333.0h0.55M171.2 332.6h0.55M171.4 332.7h0.55M171.7 332.7h0.55M172.0 332.9h0.55M172.2 332.9h0.55M172.5 333.0h0.55M172.7 332.5h0.55M173.0 333.5h0.55M173.3 333.3h0.55M173.5 333.2h0.55M173.8 332.9h0.55M174.0 333.1h0.55M174.3 333.3h0.55M174.5 333.3h0.55M174.8 332.8h0.55M175.1 333.6h0.55M175.3 334.3h0.55M175.6 332.9h0.55M175.8 334.2h0.55M176.1 333.5h0.55M176.4 333.0h0.55M176.6 334.0h0.55M176.9 331.7h0.55M177.1 332.7h0.55M177.4 333.6h0.55M177.7 332.0h0.55M177.9 331.7h0.55M178.2 331.9h0.55M178.4 331.4h0.55M178.7 332.9h0.55M178.9 330.8h0.55M179.2 332.2h0.55M179.5 330.4h0.55M179.7 331.9h0.55M180.0 331.2h0.55M180.2 329.1h0.55M180.5 331.1h0.55M180.8 330.1h0.55M181.0 330.6h0.55M181.3 332.1h0.55M181.5 329.9h0.55M181.8 329.9h0.55M182.0 331.8h0.55M182.3 330.7h0.55M182.6 331.8h0.55M182.8 330.7h0.55M183.1 329.6h0.55M183.3 330.2h0.55M183.6 331.2h0.55M183.9 331.0h0.55M184.1 330.1h0.55M184.4 330.1h0.55M184.6 329.9h0.55M184.9 329.5h0.55M185.2 331.5h0.55M185.4 329.8h0.55M185.7 328.9h0.55M185.9 329.5h0.55M186.2 330.6h0.55M186.4 330.6h0.55M186.7 330.1h0.55M187.0 329.7h0.55M187.2 330.4h0.55M187.5 329.1h0.55M187.7 329.5h0.55M188.0 331.3h0.55M188.3 330.2h0.55M188.5 330.9h0.55M188.8 331.6h0.55M189.0 331.1h0.55M189.3 330.6h0.55M189.5 332.3h0.55M189.8 331.1h0.55M190.1 330.2h0.55M190.3 331.1h0.55M190.6 330.8h0.55M190.8 329.9h0.55M191.1 330.7h0.55M191.4 330.7h0.55M191.6 329.3h0.55M191.9 330.9h0.55M192.1 330.9h0.55M192.4 330.9h0.55M192.7 330.1h0.55M192.9 331.2h0.55M193.2 331.5h0.55M193.4 331.6h0.55M193.7 330.7h0.55M193.9 332.1h0.55M194.2 330.6h0.55M194.5 331.5h0.55M194.7 332.8h0.55M195.0 331.2h0.55M195.2 331.3h0.55M195.5 332.7h0.55M195.8 331.5h0.55M196.0 331.5h0.55M196.3 331.9h0.55M196.5 332.6h0.55M196.8 329.9h0.55M197.0 331.0h0.55M197.3 330.8h0.55M197.6 330.7h0.55M197.8 330.9h0.55M198.1 330.9h0.55M198.3 331.8h0.55M198.6 330.8h0.55M198.9 331.7h0.55M199.1 332.1h0.55M199.4 331.4h0.55M199.6 332.2h0.55M199.9 333.6h0.55M200.1 332.7h0.55M200.4 332.1h0.55M200.7 332.7h0.55M200.9 332.2h0.55M201.2 333.3h0.55M201.4 334.0h0.55M201.7 332.7h0.55M202.0 333.4h0.55M202.2 334.6h0.55M202.5 333.4h0.55M202.7 334.1h0.55M203.0 333.3h0.55M203.3 333.6h0.55M203.5 334.0h0.55M203.8 336.3h0.55M204.0 334.4h0.55M204.3 334.5h0.55M204.5 334.7h0.55M204.8 335.2h0.55M205.1 336.1h0.55M205.3 335.9h0.55M205.6 337.6h0.55M205.8 336.3h0.55M206.1 337.5h0.55M206.4 336.8h0.55M206.6 337.3h0.55M206.9 335.9h0.55M207.1 337.2h0.55M207.4 337.5h0.55M207.6 337.6h0.55M207.9 336.3h0.55M208.2 338.9h0.55M208.4 338.1h0.55M208.7 338.3h0.55M208.9 338.6h0.55M209.2 338.9h0.55M209.5 339.6h0.55M209.7 338.4h0.55M210.0 338.8h0.55M210.2 339.9h0.55M210.5 339.9h0.55M210.8 339.7h0.55M211.0 339.7h0.55M211.3 339.6h0.55M211.5 340.3h0.55M211.8 341.5h0.55M212.0 339.8h0.55M212.3 342.1h0.55M212.6 341.7h0.55M212.8 340.8h0.55M213.1 341.9h0.55M213.3 340.3h0.55M213.6 340.2h0.55M213.9 341.4h0.55M214.1 340.5h0.55M214.4 339.0h0.55M214.6 337.4h0.55M214.9 336.1h0.55M215.1 333.9h0.55M215.4 333.2h0.55M215.7 331.1h0.55M215.9 329.9h0.55M216.2 328.6h0.55M216.4 327.3h0.55M216.7 326.3h0.55M217.0 325.4h0.55M217.2 324.7h0.55M217.5 323.9h0.55M217.7 322.9h0.55M218.0 322.4h0.55M218.3 322.9h0.55M218.5 323.3h0.55M218.8 324.2h0.55M219.0 323.9h0.55M219.3 325.7h0.55M219.5 326.0h0.55M219.8 326.7h0.55M220.1 327.9h0.55M220.3 328.9h0.55M220.6 329.4h0.55M220.8 330.3h0.55M221.1 330.7h0.55M221.4 331.7h0.55M221.6 332.4h0.55M221.9 332.7h0.55M222.1 333.8h0.55M222.4 334.1h0.55M222.6 334.7h0.55M222.9 334.1h0.55M223.2 334.1h0.55M223.4 334.1h0.55M223.7 333.2h0.55M223.9 333.6h0.55M224.2 333.2h0.55M224.5 333.0h0.55M224.7 331.9h0.55M225.0 332.4h0.55M225.2 332.6h0.55M225.5 332.1h0.55M225.8 332.3h0.55M226.0 331.5h0.55M226.3 332.4h0.55M226.5 331.9h0.55M226.8 332.3h0.55M227.0 331.4h0.55M227.3 332.1h0.55M227.6 331.8h0.55M227.8 332.1h0.55M228.1 331.8h0.55M228.3 332.1h0.55M228.6 333.2h0.55M228.9 332.5h0.55M229.1 332.7h0.55M229.4 333.0h0.55M229.6 333.0h0.55M229.9 333.9h0.55M230.1 334.3h0.55M230.4 333.7h0.55M230.7 333.7h0.55M230.9 334.7h0.55M231.2 334.9h0.55M231.4 334.8h0.55M231.7 334.6h0.55M232.0 333.7h0.55M232.2 333.6h0.55M232.5 332.9h0.55M232.7 332.6h0.55M233.0 333.1h0.55M233.3 332.3h0.55M233.5 332.8h0.55M233.8 331.9h0.55M234.0 331.4h0.55M234.3 331.5h0.55M234.5 331.5h0.55M234.8 330.8h0.55M235.1 330.1h0.55M235.3 330.9h0.55M235.6 331.5h0.55M235.8 331.3h0.55M236.1 331.5h0.55M236.4 332.4h0.55M236.6 332.4h0.55M236.9 332.4h0.55M237.1 332.9h0.55M237.4 333.1h0.55M237.6 333.7h0.55M237.9 334.0h0.55M238.2 334.2h0.55M238.4 333.9h0.55M238.7 333.1h0.55M238.9 333.5h0.55M239.2 333.5h0.55M239.5 333.2h0.55M239.7 333.2h0.55M240.0 332.6h0.55M240.2 332.3h0.55M240.5 332.7h0.55M240.7 332.0h0.55M241.0 331.5h0.55M241.3 332.3h0.55M241.5 331.6h0.55M241.8 331.8h0.55M242.0 331.5h0.55M242.3 331.5h0.55M242.6 331.6h0.55M242.8 331.9h0.55M243.1 332.2h0.55M243.3 331.5h0.55M243.6 332.4h0.55M243.9 331.9h0.55M244.1 332.0h0.55M244.4 332.5h0.55M244.6 332.4h0.55M244.9 332.0h0.55M245.1 333.0h0.55M245.4 332.3h0.55M245.7 332.7h0.55M245.9 332.8h0.55M246.2 333.2h0.55M246.4 332.7h0.55M246.7 333.3h0.55M247.0 332.8h0.55M247.2 333.4h0.55M247.5 333.0h0.55M247.7 333.2h0.55M248.0 333.9h0.55M248.2 333.5h0.55M248.5 333.5h0.55M248.8 334.3h0.55M249.0 333.6h0.55M249.3 333.0h0.55M249.5 333.3h0.55M249.8 332.5h0.55M250.1 333.0h0.55M250.3 332.9h0.55M250.6 332.2h0.55M250.8 332.0h0.55M251.1 332.0h0.55M251.4 331.8h0.55M251.6 331.3h0.55M191.3 324.5h0.55M189.9 336.2h0.55M188.7 337.0h0.55M185.7 325.5h0.55M195.7 327.0h0.55M204.7 330.0h0.55M322.9 354.7h0.55M323.1 353.9h0.55M323.3 354.4h0.55M323.5 354.4h0.55M323.6 354.4h0.55M323.8 354.6h0.55M324.0 354.1h0.55M324.2 354.7h0.55M324.4 354.4h0.55M324.5 354.3h0.55M324.7 354.1h0.55M324.9 354.1h0.55M325.1 354.6h0.55M325.2 354.2h0.55M325.4 354.5h0.55M325.6 354.8h0.55M325.8 354.8h0.55M326.0 355.0h0.55M326.1 354.4h0.55M326.3 354.2h0.55M326.5 354.8h0.55M326.7 354.6h0.55M326.9 354.8h0.55M327.0 354.5h0.55M327.2 354.9h0.55M327.4 354.8h0.55M327.6 354.7h0.55M327.7 354.7h0.55M327.9 354.6h0.55M328.1 354.6h0.55M328.3 354.6h0.55M328.5 354.8h0.55M328.6 354.3h0.55M328.8 355.0h0.55M329.0 354.5h0.55M329.2 354.8h0.55M329.4 354.5h0.55M329.5 354.4h0.55M329.7 355.1h0.55M329.9 354.4h0.55M330.1 354.1h0.55M330.2 354.3h0.55M330.4 354.4h0.55M330.6 355.1h0.55M330.8 354.6h0.55M331.0 354.8h0.55M331.1 354.2h0.55M331.3 354.6h0.55M331.5 354.7h0.55M331.7 355.0h0.55M331.9 354.3h0.55M332.0 354.7h0.55M332.2 354.6h0.55M332.4 354.2h0.55M332.6 354.5h0.55M332.7 354.4h0.55M332.9 353.8h0.55M333.1 354.7h0.55M333.3 354.7h0.55M333.5 354.4h0.55M333.6 354.1h0.55M333.8 354.9h0.55M334.0 354.6h0.55M334.2 354.8h0.55M334.4 354.9h0.55M334.5 354.3h0.55M334.7 354.7h0.55M334.9 354.4h0.55M335.1 354.5h0.55M335.2 354.5h0.55M335.4 354.5h0.55M335.6 354.8h0.55M335.8 354.5h0.55M336.0 354.5h0.55M336.1 354.4h0.55M336.3 354.6h0.55M336.5 354.2h0.55M336.7 354.3h0.55M336.9 354.5h0.55M337.0 354.3h0.55M337.2 354.5h0.55M337.4 354.3h0.55M337.6 355.1h0.55M337.7 354.9h0.55M337.9 354.6h0.55M338.1 354.5h0.55M338.3 355.2h0.55M338.5 354.6h0.55M338.6 354.5h0.55M338.8 354.6h0.55M339.0 354.6h0.55M339.2 354.9h0.55M339.4 354.5h0.55M339.5 355.1h0.55M339.7 354.2h0.55M339.9 354.7h0.55M340.1 354.2h0.55M340.2 355.0h0.55M340.4 354.4h0.55M340.6 354.5h0.55M340.8 354.8h0.55M341.0 354.9h0.55M341.1 354.2h0.55M341.3 354.4h0.55M341.5 354.1h0.55M341.7 354.5h0.55M341.9 354.5h0.55M342.0 354.4h0.55M342.2 354.3h0.55M342.4 354.4h0.55M342.6 354.3h0.55M342.7 354.7h0.55M342.9 355.0h0.55M343.1 353.9h0.55M343.3 354.5h0.55M343.5 354.4h0.55M343.6 354.6h0.55M343.8 354.2h0.55M344.0 354.5h0.55M344.2 354.2h0.55M344.4 354.7h0.55M344.5 354.5h0.55M344.7 354.5h0.55M344.9 354.6h0.55M345.1 354.4h0.55M345.2 354.0h0.55M345.4 354.7h0.55M345.6 354.6h0.55M345.8 354.5h0.55M346.0 354.8h0.55M346.1 354.9h0.55M346.3 354.2h0.55M346.5 354.3h0.55M346.7 355.0h0.55M346.9 354.9h0.55M347.0 354.3h0.55M347.2 354.1h0.55M347.4 354.3h0.55M347.6 354.4h0.55M347.8 354.0h0.55M347.9 354.5h0.55M348.1 354.1h0.55M348.3 354.1h0.55M348.5 354.8h0.55M348.6 354.3h0.55M348.8 354.5h0.55M349.0 354.7h0.55M349.2 354.7h0.55M349.4 354.4h0.55M349.5 354.5h0.55M349.7 354.3h0.55M349.9 355.0h0.55M350.1 354.7h0.55M350.3 354.2h0.55M350.4 354.5h0.55M350.6 354.7h0.55M350.8 354.6h0.55M351.0 355.0h0.55M351.1 354.9h0.55M351.3 354.3h0.55M351.5 354.5h0.55M351.7 354.1h0.55M351.9 354.6h0.55M352.0 354.5h0.55M352.2 355.3h0.55M352.4 354.5h0.55M352.6 353.9h0.55M352.8 354.3h0.55M352.9 354.5h0.55M353.1 354.1h0.55M353.3 354.2h0.55M353.5 354.4h0.55M353.6 354.6h0.55M353.8 354.5h0.55M354.0 354.2h0.55M354.2 354.7h0.55M354.4 354.3h0.55M354.5 354.4h0.55M354.7 354.1h0.55M354.9 354.3h0.55M355.1 354.7h0.55M355.3 354.0h0.55M355.4 354.5h0.55M355.6 354.7h0.55M355.8 354.4h0.55M356.0 354.6h0.55M356.1 354.2h0.55M356.3 354.9h0.55M356.5 354.8h0.55M356.7 354.6h0.55M356.9 354.0h0.55M357.0 354.2h0.55M357.2 354.8h0.55M357.4 355.0h0.55M357.6 354.6h0.55M357.8 354.9h0.55M357.9 354.3h0.55M358.1 354.4h0.55M358.3 354.5h0.55M358.5 354.6h0.55M358.6 354.0h0.55M358.8 354.8h0.55M359.0 354.9h0.55M359.2 354.2h0.55M359.4 354.1h0.55M359.5 354.6h0.55M359.7 354.3h0.55M359.9 353.8h0.55M360.1 354.7h0.55M360.3 354.5h0.55M360.4 354.4h0.55M360.6 355.1h0.55M360.8 354.5h0.55M360.8 354.0h0.55M361.0 354.6h0.55M361.2 353.4h0.55M361.4 353.5h0.55M361.5 354.3h0.55M361.7 353.3h0.55M361.9 353.2h0.55M362.1 355.0h0.55M362.3 354.0h0.55M362.4 353.8h0.55M362.6 353.4h0.55M362.8 353.2h0.55M363.0 354.1h0.55M363.1 353.5h0.55M363.3 355.9h0.55M363.5 354.1h0.55M363.7 355.0h0.55M363.9 353.6h0.55M364.0 354.1h0.55M364.2 354.4h0.55M364.4 354.8h0.55M364.6 352.4h0.55M364.8 352.6h0.55M364.9 351.8h0.55M365.1 351.1h0.55M365.3 350.5h0.55M365.5 351.4h0.55M365.6 349.6h0.55M365.8 351.1h0.55M366.0 350.8h0.55M366.2 350.0h0.55M366.4 349.5h0.55M366.5 348.9h0.55M366.7 351.6h0.55M366.9 348.6h0.55M367.1 351.0h0.55M367.3 349.9h0.55M367.4 348.7h0.55M367.6 347.8h0.55M367.8 349.5h0.55M368.0 350.4h0.55M368.1 348.4h0.55M368.3 349.3h0.55M368.5 350.9h0.55M368.7 350.6h0.55M368.9 352.5h0.55M369.0 350.6h0.55M369.2 352.0h0.55M369.4 350.2h0.55M369.6 353.0h0.55M369.8 350.3h0.55M369.9 348.8h0.55M370.1 350.5h0.55M370.3 350.3h0.55M370.5 352.0h0.55M370.6 349.8h0.55M370.8 349.7h0.55M371.0 349.9h0.55M371.2 350.5h0.55M371.4 348.7h0.55M371.5 349.3h0.55M371.7 348.5h0.55M371.9 347.5h0.55M372.1 347.8h0.55M372.3 348.5h0.55M372.4 348.4h0.55M372.6 351.1h0.55M372.8 349.4h0.55M373.0 352.0h0.55M373.1 352.1h0.55M373.3 351.5h0.55M373.5 351.2h0.55M373.7 352.0h0.55M373.9 353.0h0.55M374.0 353.5h0.55M374.2 353.1h0.55M374.4 353.5h0.55M374.6 351.8h0.55M374.8 352.2h0.55M374.9 350.3h0.55M375.1 352.1h0.55M375.3 351.3h0.55M375.5 350.5h0.55M375.6 351.7h0.55M375.8 351.1h0.55M376.0 347.8h0.55M376.2 350.1h0.55M376.4 348.6h0.55M376.5 350.7h0.55M376.7 351.8h0.55M376.9 348.9h0.55M377.1 349.2h0.55M377.3 348.7h0.55M377.4 349.1h0.55M377.6 349.2h0.55M377.8 349.7h0.55M378.0 347.5h0.55M378.1 349.6h0.55M378.3 347.2h0.55M378.5 348.1h0.55M378.7 348.8h0.55M378.9 348.2h0.55M379.0 347.2h0.55M379.2 348.3h0.55M379.4 349.3h0.55M379.6 350.5h0.55M379.8 352.4h0.55M379.9 351.0h0.55M380.1 353.3h0.55M380.3 354.2h0.55M380.5 354.9h0.55M380.6 355.6h0.55M380.8 357.3h0.55M381.0 357.2h0.55M381.2 358.1h0.55M381.4 358.5h0.55M381.5 360.2h0.55M381.7 357.5h0.55M381.9 361.0h0.55M382.1 360.3h0.55M382.3 360.9h0.55M382.4 360.7h0.55M382.6 358.4h0.55M382.8 358.1h0.55M383.0 356.3h0.55M383.2 355.8h0.55M383.3 352.4h0.55M383.5 353.5h0.55M383.7 350.9h0.55M383.9 349.0h0.55M384.0 347.9h0.55M384.2 347.1h0.55M384.4 346.1h0.55M384.6 346.5h0.55M384.8 348.4h0.55M384.9 349.6h0.55M385.1 349.8h0.55M385.3 351.9h0.55M385.5 352.0h0.55M385.7 353.5h0.55M385.8 355.7h0.55M386.0 355.2h0.55M386.2 355.0h0.55M386.4 354.4h0.55M386.5 355.2h0.55M386.7 355.5h0.55M386.9 358.0h0.55M387.1 357.0h0.55M387.3 358.1h0.55M387.4 357.9h0.55M387.6 358.9h0.55M387.8 360.4h0.55M388.0 358.9h0.55M388.2 358.8h0.55M388.3 357.7h0.55M388.5 358.5h0.55M388.7 356.0h0.55M388.9 355.2h0.55M389.0 354.3h0.55M389.2 353.5h0.55M389.4 354.5h0.55M389.6 355.1h0.55M389.8 350.4h0.55M389.9 350.7h0.55M390.1 348.6h0.55M390.3 348.3h0.55M390.5 350.2h0.55M390.7 351.3h0.55M390.8 352.0h0.55M391.0 355.4h0.55M391.2 353.0h0.55M391.4 356.2h0.55M391.5 357.1h0.55M391.7 356.1h0.55M391.9 356.6h0.55M392.1 357.0h0.55M392.3 356.2h0.55M392.4 356.3h0.55M392.6 356.3h0.55M392.8 353.7h0.55M393.0 356.7h0.55M393.2 357.2h0.55M393.3 355.9h0.55M393.5 355.7h0.55M393.7 353.4h0.55M393.9 354.5h0.55M394.0 353.8h0.55M394.2 354.0h0.55M394.4 355.3h0.55M394.6 353.7h0.55M394.8 354.2h0.55M394.9 352.5h0.55M395.1 354.1h0.55M395.3 354.2h0.55M395.5 353.4h0.55M395.7 353.4h0.55M395.8 355.6h0.55M396.0 352.8h0.55M396.2 352.8h0.55M396.4 352.9h0.55M396.5 354.6h0.55M396.7 355.3h0.55M396.9 353.7h0.55M397.1 352.6h0.55M397.3 352.8h0.55M397.4 354.0h0.55M397.6 352.1h0.55M397.8 354.2h0.55M398.0 354.3h0.55M398.2 353.2h0.55M398.3 353.8h0.55M398.5 354.0h0.55M398.7 354.8h0.55M398.9 352.5h0.55M399.0 354.6h0.55M399.2 353.3h0.55M399.4 353.0h0.55M399.6 353.9h0.55M399.8 353.7h0.55M399.9 353.1h0.55M400.1 352.6h0.55M400.3 353.3h0.55M400.5 355.5h0.55M400.7 356.1h0.55M400.8 355.0h0.55M401.0 355.6h0.55M401.2 354.1h0.55M367.1 341.2h0.55M372.7 343.6h0.55M378.2 336.6h0.55M379.6 340.8h0.55M383.1 331.7h0.55M383.1 339.4h0.55M384.5 343.6h0.55M389.4 331.7h0.55M389.4 336.6h0.55M390.1 345.0h0.55M389.4 351.9h0.55M398.4 342.2h0.55M398.4 345.0h0.55M398.4 348.4h0.55M378.2 323.4h0.55M378.9 348.4h0.55M381.7 356.8h0.55M372.2 343.8h0.55M376.8 341.6h0.55M367.3 344.0h0.55M364.7 347.0h0.55M383.5 339.6h0.55M383.7 343.5h0.55M372.4 346.0h0.55M389.8 332.0h0.55M399.3 345.3h0.55M399.3 348.5h0.55M376.7 352.0h0.55M380.7 352.0h0.55M385.7 346.0h0.55M391.7 350.0h0.55M375.7 345.0h0.55M369.7 346.0h0.55M386.7 360.5h0.55M382.7 361.0h0.55M398.6 339.5h0.55M401.4 354.5h0.55M401.6 354.6h0.55M401.8 354.2h0.55M402.0 354.2h0.55M402.1 354.5h0.55M402.3 354.4h0.55M402.5 354.2h0.55M402.7 354.6h0.55M402.9 354.4h0.55M403.0 354.8h0.55M403.2 354.5h0.55M403.4 354.4h0.55M403.6 354.5h0.55M403.7 354.4h0.55M403.9 354.3h0.55M404.1 354.4h0.55M404.3 354.7h0.55M404.5 354.7h0.55M404.6 354.9h0.55M404.8 354.0h0.55M405.0 354.4h0.55M405.2 354.4h0.55M405.4 354.6h0.55M405.5 354.4h0.55M405.7 354.3h0.55M405.9 354.7h0.55M406.1 354.6h0.55M406.2 354.2h0.55M406.4 354.9h0.55M406.6 354.8h0.55M406.8 354.3h0.55M407.0 354.7h0.55M407.1 354.3h0.55M407.3 354.8h0.55M407.5 354.4h0.55M407.7 354.3h0.55M407.9 354.4h0.55M408.0 354.3h0.55M408.2 354.6h0.55M408.4 354.6h0.55M408.6 354.5h0.55M408.7 354.3h0.55M408.9 353.4h0.55M409.1 354.5h0.55M409.3 353.9h0.55M409.5 354.6h0.55M409.6 354.8h0.55M409.8 354.6h0.55M410.0 354.4h0.55M410.2 354.4h0.55M410.4 354.5h0.55M410.5 354.3h0.55M410.7 354.3h0.55M410.9 354.2h0.55M411.1 354.9h0.55M411.2 354.5h0.55M411.4 354.8h0.55M411.6 354.4h0.55M411.8 354.5h0.55M412.0 354.4h0.55M412.1 354.6h0.55M412.3 354.7h0.55M412.5 354.6h0.55M412.7 354.3h0.55M412.9 354.3h0.55M413.0 355.0h0.55M413.2 354.4h0.55M413.4 354.4h0.55M413.6 354.9h0.55M413.7 354.8h0.55M413.9 354.7h0.55M414.1 354.4h0.55M414.3 355.2h0.55M414.5 354.6h0.55M414.6 354.7h0.55M414.8 354.4h0.55M415.0 354.1h0.55M415.2 354.1h0.55M415.4 354.6h0.55M415.5 354.6h0.55M415.7 354.4h0.55M415.9 354.1h0.55M416.1 354.1h0.55M416.2 354.4h0.55M416.4 354.1h0.55M416.6 354.8h0.55M416.8 354.8h0.55M417.0 355.3h0.55M417.1 354.8h0.55M417.3 354.3h0.55M417.5 354.2h0.55M417.7 353.5h0.55M417.9 354.3h0.55M418.0 354.4h0.55M418.2 354.8h0.55M418.4 354.7h0.55M418.6 354.7h0.55M418.7 354.6h0.55M418.9 354.7h0.55M419.1 354.9h0.55M419.3 354.2h0.55M419.5 354.4h0.55M419.6 354.1h0.55M419.8 355.0h0.55M420.0 354.9h0.55M420.2 354.7h0.55M420.4 354.1h0.55M420.5 354.6h0.55M420.7 354.4h0.55M420.9 354.5h0.55M421.1 354.4h0.55M421.2 354.7h0.55M421.4 354.4h0.55M421.6 354.8h0.55M421.8 354.6h0.55M422.0 354.4h0.55M422.1 354.5h0.55M422.3 354.4h0.55M422.5 354.7h0.55M422.7 354.4h0.55M422.9 354.6h0.55M423.0 354.4h0.55M423.2 354.1h0.55M423.4 354.8h0.55M423.6 354.2h0.55M423.8 354.7h0.55M423.9 354.6h0.55M424.1 354.0h0.55M424.3 354.2h0.55M424.5 354.3h0.55M424.6 354.3h0.55M424.8 354.1h0.55M425.0 354.7h0.55M425.2 354.4h0.55M425.4 354.6h0.55M425.5 354.4h0.55M425.7 354.6h0.55M425.9 354.3h0.55M426.1 354.5h0.55M426.3 354.7h0.55M426.4 354.5h0.55M426.6 354.4h0.55M426.8 354.2h0.55M427.0 354.6h0.55M427.1 354.6h0.55M427.3 354.4h0.55M427.5 354.3h0.55M427.7 354.7h0.55M427.9 355.2h0.55M428.0 354.4h0.55M428.2 354.6h0.55M428.4 354.6h0.55M428.6 353.7h0.55M428.8 354.5h0.55M428.9 354.3h0.55M429.1 354.9h0.55M429.3 354.4h0.55M429.5 354.3h0.55M429.6 354.4h0.55M429.8 354.5h0.55M430.0 354.3h0.55M430.2 354.5h0.55M430.4 354.1h0.55M430.5 354.4h0.55M430.7 354.7h0.55M430.9 355.1h0.55M431.1 354.7h0.55M431.3 354.6h0.55M431.4 354.9h0.55M431.6 354.8h0.55M431.8 355.0h0.55M432.0 354.8h0.55M432.1 354.5h0.55M432.3 354.6h0.55M432.5 354.6h0.55M432.7 354.6h0.55M432.9 354.6h0.55M433.0 354.3h0.55M433.2 353.9h0.55M433.4 354.3h0.55M433.6 353.9h0.55M433.8 354.5h0.55M433.9 354.5h0.55M434.1 354.0h0.55M434.3 354.7h0.55M434.5 354.8h0.55M434.6 354.5h0.55M434.8 355.0h0.55M435.0 355.1h0.55M435.2 354.1h0.55M435.4 354.8h0.55M435.5 354.6h0.55M435.7 354.6h0.55M435.9 354.8h0.55M436.1 354.3h0.55M436.3 354.3h0.55M436.4 354.3h0.55M436.6 354.3h0.55M436.8 354.5h0.55M437.0 354.1h0.55M437.1 354.2h0.55M437.3 354.7h0.55M437.5 354.5h0.55M437.7 354.6h0.55M437.9 353.9h0.55M438.0 354.3h0.55M438.2 354.3h0.55M438.4 354.5h0.55M438.6 354.3h0.55M438.8 354.8h0.55M438.9 354.5h0.55M439.1 354.5h0.55M439.3 354.5h0.55M439.5 354.7h0.55M439.6 354.4h0.55M439.8 354.8h0.55M440.0 354.6h0.55M440.2 354.5h0.55M440.4 354.5h0.55M440.5 354.7h0.55M440.7 354.8h0.55M440.9 354.8h0.55M441.1 354.6h0.55M441.3 354.8h0.55M441.4 354.5h0.55M441.6 354.9h0.55M441.8 354.5h0.55M442.0 353.9h0.55M442.1 354.9h0.55M442.3 354.5h0.55M442.5 354.1h0.55M442.7 354.4h0.55M442.9 354.2h0.55M443.0 355.1h0.55M443.2 354.6h0.55M443.4 354.0h0.55M443.6 354.7h0.55M443.8 354.4h0.55M443.9 355.1h0.55M444.1 354.2h0.55M444.3 353.8h0.55M444.5 354.5h0.55M444.6 354.4h0.55M444.8 354.4h0.55M445.0 353.9h0.55M445.2 354.6h0.55M445.4 355.0h0.55M445.5 353.9h0.55M445.7 354.9h0.55M445.9 354.3h0.55M446.1 355.2h0.55M446.3 354.6h0.55M446.4 354.4h0.55M446.6 354.8h0.55M446.8 354.7h0.55M447.0 354.3h0.55M447.1 354.7h0.55M447.3 354.3h0.55M447.5 354.0h0.55M447.7 355.1h0.55M447.9 354.4h0.55M448.0 354.3h0.55M448.2 354.6h0.55M448.4 354.0h0.55M448.6 354.1h0.55M448.8 354.4h0.55M448.9 354.3h0.55M449.1 354.5h0.55M449.3 354.8h0.55M449.5 354.4h0.55M449.6 354.6h0.55M449.8 354.7h0.55M450.0 354.2h0.55M450.2 354.6h0.55M450.4 354.2h0.55M450.5 354.8h0.55M450.7 354.6h0.55M450.9 354.5h0.55M451.1 354.1h0.55M451.3 354.5h0.55M451.4 354.3h0.55M451.6 354.7h0.55M451.8 354.5h0.55M452.0 354.3h0.55M452.1 354.8h0.55M452.3 354.7h0.55M452.5 354.3h0.55M452.7 354.8h0.55M452.9 354.4h0.55M453.0 354.4h0.55M453.2 354.5h0.55M453.4 354.3h0.55M453.6 354.4h0.55M453.8 354.5h0.55M453.9 355.0h0.55M454.1 354.9h0.55M454.3 354.4h0.55M454.5 355.0h0.55M454.6 354.5h0.55M454.8 354.6h0.55M455.0 354.8h0.55M455.2 354.6h0.55M455.4 355.2h0.55M455.5 354.6h0.55M455.7 354.1h0.55M455.9 354.9h0.55M456.1 354.4h0.55M456.3 354.4h0.55M456.4 353.6h0.55M456.6 354.8h0.55M456.8 354.7h0.55M457.0 354.7h0.55M457.1 354.8h0.55M457.3 355.0h0.55M457.5 354.5h0.55M457.7 354.8h0.55M457.9 354.3h0.55M458.0 354.4h0.55M458.2 354.8h0.55M458.4 354.6h0.55M458.6 354.1h0.55M458.8 354.6h0.55M458.9 354.4h0.55M459.1 354.3h0.55M459.3 354.6h0.55M459.5 354.4h0.55M459.6 354.0h0.55M459.8 354.2h0.55M460.0 355.0h0.55M460.2 354.0h0.55M460.4 354.6h0.55M460.5 354.7h0.55M460.7 354.7h0.55M460.9 354.1h0.55M461.1 354.4h0.55M461.3 354.5h0.55M461.4 354.7h0.55M461.6 354.3h0.55M461.8 354.2h0.55M462.0 354.8h0.55M462.1 354.8h0.55M462.3 354.6h0.55M462.5 354.3h0.55M462.7 354.6h0.55M462.9 354.5h0.55M463.0 354.8h0.55M463.2 354.1h0.55M463.4 354.5h0.55M463.6 354.5h0.55M463.8 354.2h0.55M463.9 354.6h0.55M464.1 354.5h0.55M464.3 354.4h0.55M464.5 354.6h0.55M464.6 354.1h0.55M464.8 354.5h0.55M465.0 354.6h0.55M465.2 354.6h0.55M465.4 354.8h0.55M465.5 354.1h0.55M465.7 354.0h0.55M465.9 354.6h0.55M466.1 354.6h0.55M466.3 355.1h0.55M466.4 354.7h0.55M466.6 354.2h0.55M466.8 354.7h0.55M467.0 354.2h0.55M467.1 354.1h0.55M467.3 355.3h0.55M467.5 354.6h0.55M467.7 354.7h0.55M467.9 354.7h0.55M468.0 355.0h0.55M468.2 354.6h0.55M468.4 354.9h0.55M468.6 354.2h0.55M468.8 354.1h0.55M468.9 354.9h0.55M469.1 354.9h0.55M469.3 354.7h0.55M469.5 354.6h0.55M469.7 354.5h0.55M469.8 354.3h0.55M470.0 355.0h0.55M470.2 354.7h0.55M470.4 354.7h0.55M470.5 354.6h0.55M470.7 354.8h0.55M470.9 354.7h0.55M471.1 354.7h0.55M471.3 354.1h0.55M471.4 354.7h0.55M471.6 355.2h0.55M471.8 354.3h0.55M472.0 354.5h0.55M472.2 354.8h0.55M472.3 354.8h0.55M472.5 354.7h0.55M472.7 354.0h0.55M472.9 354.7h0.55M473.0 354.1h0.55M473.2 354.3h0.55M473.4 354.7h0.55M473.6 354.4h0.55M473.8 354.7h0.55M473.9 355.4h0.55M474.1 354.7h0.55M474.3 354.7h0.55M474.5 354.2h0.55M474.7 354.3h0.55M474.8 354.2h0.55M475.0 354.3h0.55M475.2 354.2h0.55M475.4 354.3h0.55M475.5 354.4h0.55M475.7 354.2h0.55M475.9 354.1h0.55M476.1 354.1h0.55M476.3 354.6h0.55M476.4 354.5h0.55M476.6 354.8h0.55M476.8 354.8h0.55M477.0 354.4h0.55M477.2 354.7h0.55M477.3 354.1h0.55M477.5 355.2h0.55M477.7 354.9h0.55M477.9 354.4h0.55M478.0 354.2h0.55M478.2 354.6h0.55M478.4 353.9h0.55M478.6 354.3h0.55M478.8 354.7h0.55M478.9 354.5h0.55M479.1 354.4h0.55M479.3 354.8h0.55M479.5 354.2h0.55M479.7 354.6h0.55M479.8 354.4h0.55M480.0 354.2h0.55M480.2 354.6h0.55M480.4 354.2h0.55M480.5 355.1h0.55M480.7 354.3h0.55M480.9 355.1h0.55M481.1 354.2h0.55M481.3 354.7h0.55M481.4 354.1h0.55M481.6 354.1h0.55M481.8 354.5h0.55M482.0 354.7h0.55M482.2 354.1h0.55M482.3 354.9h0.55M482.5 354.3h0.55M482.7 354.5h0.55M482.9 354.6h0.55M483.0 354.7h0.55M483.2 354.0h0.55M483.4 355.0h0.55M483.6 354.7h0.55M483.8 354.4h0.55M483.9 354.2h0.55M484.1 354.0h0.55M484.3 354.1h0.55M484.5 354.7h0.55M484.7 354.4h0.55M484.8 354.2h0.55M485.0 354.3h0.55M485.2 355.0h0.55M485.4 354.4h0.55M485.5 354.3h0.55M485.7 354.9h0.55M485.9 354.6h0.55M486.1 354.5h0.55M486.3 354.3h0.55M486.4 354.0h0.55M486.6 354.1h0.55M486.8 354.4h0.55M487.0 354.4h0.55M487.2 354.6h0.55M487.3 354.7h0.55M487.5 354.6h0.55M487.7 354.6h0.55M487.9 354.2h0.55M488.0 353.9h0.55M488.2 354.3h0.55M488.4 354.2h0.55M488.6 354.3h0.55M488.8 354.4h0.55M488.9 354.1h0.55M489.1 354.2h0.55M489.3 354.5h0.55M489.5 354.5h0.55M489.7 354.3h0.55M489.8 354.6h0.55M490.0 354.4h0.55M490.2 354.2h0.55M490.4 354.5h0.55M490.5 355.1h0.55M490.7 354.3h0.55M490.9 354.8h0.55M491.1 354.9h0.55M491.3 354.9h0.55M491.4 354.3h0.55M491.6 355.1h0.55M491.8 354.5h0.55M492.0 354.4h0.55M492.2 354.4h0.55M492.3 354.7h0.55M492.5 354.5h0.55M492.7 354.4h0.55M492.9 354.9h0.55M493.0 354.3h0.55M493.2 354.2h0.55M493.4 354.7h0.55M493.6 354.7h0.55M493.8 354.8h0.55M493.9 354.2h0.55M494.1 354.8h0.55M494.3 354.6h0.55M494.5 355.0h0.55M494.7 354.1h0.55M494.8 354.6h0.55M495.0 354.4h0.55M495.2 354.0h0.55M495.4 354.3h0.55M495.5 354.8h0.55M495.7 354.4h0.55M495.9 354.3h0.55M496.1 354.8h0.55M496.3 354.8h0.55M496.4 354.8h0.55M496.6 354.3h0.55M496.8 354.5h0.55M497.0 354.8h0.55M497.2 354.3h0.55M497.3 354.3h0.55M497.5 354.7h0.55M497.7 355.0h0.55M497.9 354.2h0.55M498.0 353.7h0.55M498.2 354.1h0.55M498.4 354.2h0.55M498.6 354.5h0.55M498.8 354.7h0.55M498.9 354.5h0.55M499.1 354.3h0.55M499.3 354.5h0.55M499.5 354.2h0.55M499.7 354.5h0.55M499.8 354.3h0.55M500.0 355.3h0.55M500.2 354.7h0.55M500.4 354.2h0.55M500.5 354.2h0.55M500.7 354.4h0.55M500.9 354.0h0.55M501.1 354.3h0.55M501.3 354.3h0.55M501.4 354.8h0.55M501.6 354.4h0.55M501.8 354.3h0.55M502.0 354.1h0.55M502.2 354.1h0.55M502.3 354.5h0.55M502.5 354.4h0.55M502.7 354.8h0.55M502.9 354.3h0.55M503.0 354.8h0.55M503.2 354.6h0.55M503.4 354.5h0.55M503.6 353.9h0.55M503.8 354.1h0.55M503.9 354.7h0.55M504.1 354.9h0.55M504.3 354.6h0.55M504.5 354.7h0.55M504.7 354.4h0.55M504.8 354.4h0.55M505.0 354.3h0.55M505.2 354.8h0.55M505.4 354.6h0.55M505.5 354.4h0.55M505.7 354.4h0.55M505.9 354.7h0.55M506.1 354.6h0.55M506.3 354.3h0.55M506.4 355.0h0.55M506.6 354.6h0.55M506.8 354.5h0.55M507.0 354.9h0.55M507.2 354.8h0.55M507.3 354.5h0.55M507.5 354.7h0.55M507.7 354.2h0.55M507.9 354.3h0.55M508.0 353.8h0.55M508.2 354.9h0.55M508.4 353.9h0.55M508.6 354.7h0.55M508.8 354.3h0.55M508.9 354.2h0.55M509.1 354.4h0.55M509.3 354.6h0.55M509.5 354.7h0.55M509.7 355.0h0.55M509.8 354.6h0.55M510.0 354.8h0.55M510.2 354.3h0.55M510.4 354.7h0.55M510.5 354.5h0.55M510.7 354.4h0.55M510.9 354.5h0.55M511.1 354.5h0.55M511.3 354.6h0.55M511.4 354.6h0.55M511.6 354.3h0.55M511.8 354.3h0.55M512.0 354.7h0.55M512.2 354.0h0.55M512.3 354.3h0.55M512.5 355.0h0.55M512.7 353.7h0.55M512.9 354.3h0.55M513.1 354.7h0.55M513.2 354.0h0.55M513.4 355.3h0.55M513.6 353.7h0.55M513.8 354.9h0.55M513.9 355.0h0.55M514.1 354.8h0.55M514.3 354.4h0.55M514.5 354.6h0.55M514.7 354.2h0.55M514.8 354.7h0.55M515.0 354.2h0.55M515.2 354.4h0.55M515.4 354.8h0.55M515.6 354.2h0.55M515.7 354.4h0.55M515.9 354.5h0.55M516.1 354.1h0.55M516.3 354.8h0.55M516.4 354.6h0.55M516.6 354.0h0.55M516.8 354.5h0.55M517.0 354.3h0.55M517.2 354.3h0.55M517.3 354.5h0.55M517.5 354.3h0.55M517.7 354.8h0.55M517.9 354.3h0.55M518.1 354.8h0.55M518.2 354.5h0.55M518.4 354.8h0.55M518.6 354.3h0.55M518.8 354.3h0.55M518.9 354.2h0.55M519.1 354.7h0.55M519.3 354.8h0.55M519.5 355.1h0.55M519.7 354.9h0.55M519.8 354.6h0.55M520.0 354.4h0.55M520.2 354.6h0.55M520.4 354.5h0.55M520.6 354.9h0.55M520.7 354.8h0.55M520.9 354.2h0.55M521.1 354.3h0.55M521.3 354.9h0.55M521.4 354.6h0.55M521.6 354.4h0.55M521.8 354.9h0.55M522.0 354.4h0.55M522.2 354.4h0.55M522.3 354.4h0.55M522.5 353.9h0.55M522.7 354.8h0.55M522.9 354.1h0.55M523.1 354.3h0.55M523.2 354.3h0.55M523.4 354.7h0.55M523.6 354.5h0.55M523.8 354.5h0.55M523.9 354.0h0.55M524.1 354.5h0.55M524.3 354.1h0.55M524.5 354.6h0.55M524.7 354.6h0.55M524.8 354.5h0.55M525.0 355.1h0.55M525.2 354.7h0.55M525.4 354.7h0.55M525.6 354.5h0.55M525.7 354.4h0.55M525.9 354.8h0.55M526.1 354.8h0.55M526.3 354.1h0.55M526.4 354.8h0.55M526.6 354.7h0.55M526.8 354.8h0.55M527.0 354.6h0.55M527.2 354.1h0.55M527.3 354.1h0.55M527.5 355.0h0.55M527.7 354.6h0.55M527.9 354.1h0.55M528.1 354.6h0.55M528.2 354.4h0.55M528.4 353.9h0.55M528.6 353.8h0.55M528.8 354.0h0.55M528.9 354.6h0.55M529.1 354.5h0.55M529.3 354.4h0.55M529.5 354.6h0.55M529.7 354.7h0.55M529.8 353.9h0.55M530.0 354.4h0.55M530.2 354.3h0.55M530.4 354.1h0.55M530.6 354.3h0.55M530.7 354.5h0.55M530.9 354.4h0.55M531.1 354.1h0.55"/>
<path class="do" d="M157.7 141.2h0M158.6 121.8h0M159.4 106.5h0M159.9 74.5h0M160.6 34.2h0M161.4 22.4h0M162.0 69.4h0M162.5 102.5h0M163.5 103.7h0M164.2 77.8h0M164.9 35.0h0M165.5 41.7h0M416.4 151.7h0M417.1 159.5h0M417.1 147.4h0M418.8 141.2h0M417.9 130.8h0M417.9 121.6h0M417.8 102.8h0M418.6 105.7h0M418.5 54.4h0M419.3 22.4h0M94.3 349.0h0M95.0 350.5h0M95.8 349.8h0M94.8 351.5h0M96.5 352.3h0M97.3 353.5h0M98.0 354.8h0M99.0 353.3h0M99.5 355.7h0M100.5 354.5h0M101.3 356.2h0M102.0 352.8h0M102.5 355.0h0M103.2 350.5h0M103.6 348.0h0M104.4 346.0h0M104.2 350.4h0M105.3 350.8h0M104.8 355.3h0M106.0 356.0h0M104.9 364.0h0M105.3 322.6h0M105.9 280.3h0M106.4 243.0h0M106.4 227.3h0M377.7 228.7h0M377.7 242.8h0M376.7 273.6h0M377.8 281.5h0M376.7 284.3h0M376.7 308.1h0M376.7 319.6h0M375.8 334.0h0M375.9 358.0h0M376.4 362.6h0M375.2 364.4h0"/>
</svg>
</body></html>
